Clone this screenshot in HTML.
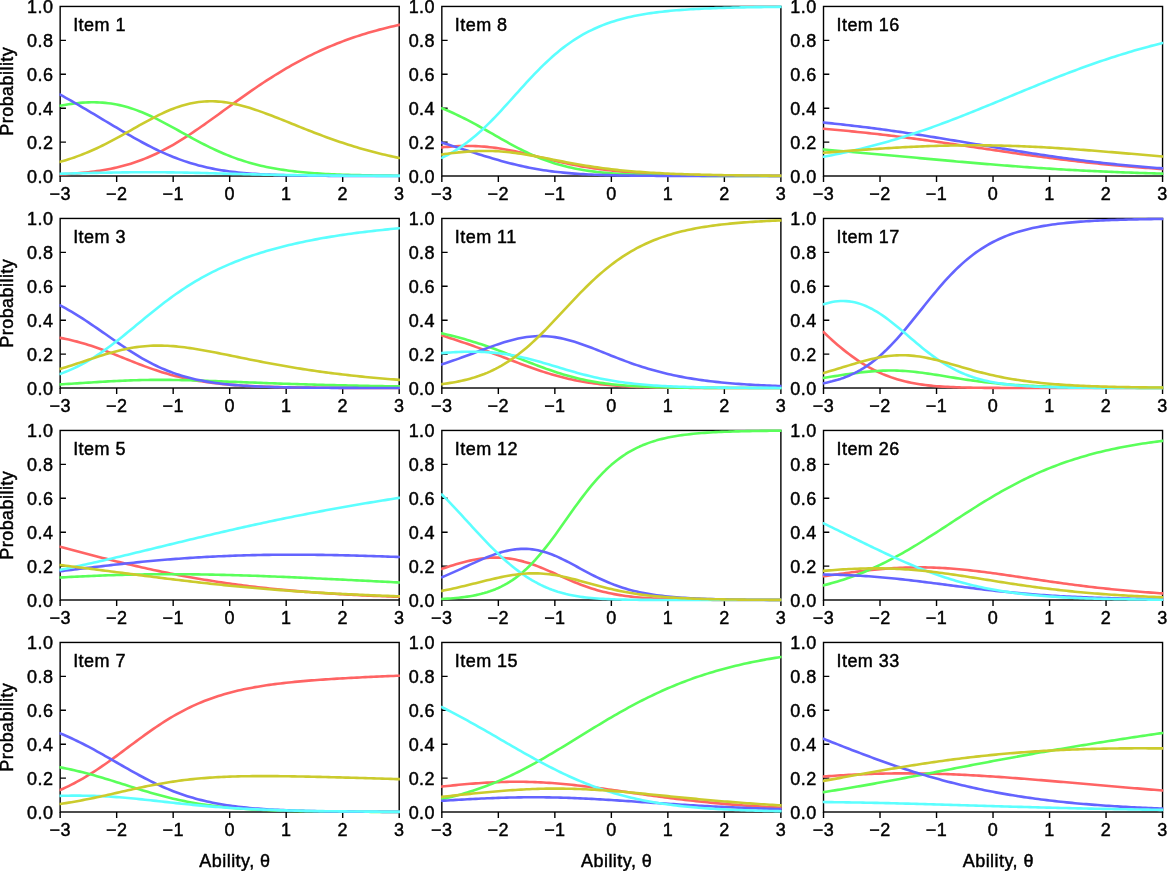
<!DOCTYPE html>
<html><head><meta charset="utf-8"><title>Item category response curves</title>
<style>
html,body{margin:0;padding:0;background:#fff;}
svg{display:block}
text{font-family:"Liberation Sans",Arial,Helvetica,sans-serif;font-size:18px;fill:#000;stroke:#000;stroke-width:0.45px;letter-spacing:0.45px}
.ax{fill:none;stroke:#000;stroke-width:1.4}
.cv{fill:none;stroke-width:2.6;stroke-linecap:butt;stroke-linejoin:round}
</style></head><body>
<svg width="1167" height="871" viewBox="0 0 1167 871">
<rect width="1167" height="871" fill="#fff"/>
<g>
<rect class="ax" x="60.15" y="6.45" width="339.05" height="169.55"/>
<path class="ax" d="M60.15 142.09h5.8M60.15 108.18h5.8M60.15 74.27h5.8M60.15 40.36h5.8M60.15 176.00v5.9M116.66 176.00v5.9M173.17 176.00v5.9M229.68 176.00v5.9M286.18 176.00v5.9M342.69 176.00v5.9M399.20 176.00v5.9"/>
<text x="53.35" y="182.80" text-anchor="end">0.0</text>
<text x="53.35" y="148.89" text-anchor="end">0.2</text>
<text x="53.35" y="114.98" text-anchor="end">0.4</text>
<text x="53.35" y="81.07" text-anchor="end">0.6</text>
<text x="53.35" y="47.16" text-anchor="end">0.8</text>
<text x="53.35" y="13.25" text-anchor="end">1.0</text>
<text x="60.15" y="199.50" text-anchor="middle">−3</text>
<text x="116.66" y="199.50" text-anchor="middle">−2</text>
<text x="173.17" y="199.50" text-anchor="middle">−1</text>
<text x="229.68" y="199.50" text-anchor="middle">0</text>
<text x="286.18" y="199.50" text-anchor="middle">1</text>
<text x="342.69" y="199.50" text-anchor="middle">2</text>
<text x="399.20" y="199.50" text-anchor="middle">3</text>
<text x="73.15" y="31.35">Item 1</text>
<text transform="translate(13.4 91.22) rotate(-90)" text-anchor="middle">Probability</text>
<polyline class="cv" stroke="#ff6464" points="59.45,174.46 60.15,174.46 62.98,174.31 65.80,174.14 68.63,173.97 71.45,173.78 74.28,173.57 77.10,173.34 79.93,173.10 82.75,172.83 85.58,172.54 88.40,172.23 91.23,171.89 94.06,171.53 96.88,171.14 99.71,170.72 102.53,170.27 105.36,169.79 108.18,169.27 111.01,168.71 113.83,168.12 116.66,167.49 119.48,166.81 122.31,166.10 125.13,165.34 127.96,164.53 130.79,163.67 133.61,162.77 136.44,161.82 139.26,160.82 142.09,159.77 144.91,158.66 147.74,157.50 150.56,156.29 153.39,155.03 156.21,153.72 159.04,152.35 161.87,150.94 164.69,149.47 167.52,147.95 170.34,146.39 173.17,144.78 175.99,143.12 178.82,141.42 181.64,139.68 184.47,137.90 187.29,136.09 190.12,134.24 192.94,132.35 195.77,130.44 198.60,128.50 201.42,126.54 204.25,124.56 207.07,122.56 209.90,120.54 212.72,118.52 215.55,116.48 218.37,114.43 221.20,112.38 224.02,110.32 226.85,108.27 229.68,106.22 232.50,104.17 235.33,102.13 238.15,100.10 240.98,98.08 243.80,96.08 246.63,94.08 249.45,92.11 252.28,90.15 255.10,88.21 257.93,86.29 260.75,84.39 263.58,82.52 266.41,80.67 269.23,78.84 272.06,77.04 274.88,75.26 277.71,73.52 280.53,71.80 283.36,70.10 286.18,68.44 289.01,66.80 291.83,65.20 294.66,63.62 297.49,62.08 300.31,60.56 303.14,59.07 305.96,57.62 308.79,56.19 311.61,54.79 314.44,53.43 317.26,52.09 320.09,50.78 322.91,49.50 325.74,48.25 328.56,47.03 331.39,45.84 334.22,44.68 337.04,43.54 339.87,42.44 342.69,41.36 345.52,40.30 348.34,39.28 351.17,38.28 353.99,37.30 356.82,36.36 359.64,35.43 362.47,34.53 365.30,33.66 368.12,32.81 370.95,31.98 373.77,31.18 376.60,30.39 379.42,29.63 382.25,28.90 385.07,28.18 387.90,27.48 390.72,26.81 393.55,26.15 396.37,25.51 399.20,24.89 399.90,24.89"/>
<polyline class="cv" stroke="#5aff5a" points="59.45,105.80 60.15,105.80 62.98,105.26 65.80,104.76 68.63,104.30 71.45,103.88 74.28,103.51 77.10,103.18 79.93,102.90 82.75,102.67 85.58,102.49 88.40,102.37 91.23,102.30 94.06,102.29 96.88,102.35 99.71,102.46 102.53,102.64 105.36,102.89 108.18,103.20 111.01,103.58 113.83,104.03 116.66,104.55 119.48,105.14 122.31,105.80 125.13,106.53 127.96,107.33 130.79,108.19 133.61,109.12 136.44,110.12 139.26,111.18 142.09,112.29 144.91,113.47 147.74,114.70 150.56,115.98 153.39,117.31 156.21,118.69 159.04,120.10 161.87,121.55 164.69,123.03 167.52,124.54 170.34,126.07 173.17,127.62 175.99,129.18 178.82,130.75 181.64,132.32 184.47,133.89 187.29,135.46 190.12,137.01 192.94,138.56 195.77,140.08 198.60,141.59 201.42,143.07 204.25,144.52 207.07,145.95 209.90,147.34 212.72,148.70 215.55,150.02 218.37,151.30 221.20,152.55 224.02,153.75 226.85,154.91 229.68,156.04 232.50,157.11 235.33,158.15 238.15,159.15 240.98,160.10 243.80,161.01 246.63,161.88 249.45,162.71 252.28,163.50 255.10,164.26 257.93,164.97 260.75,165.65 263.58,166.29 266.41,166.90 269.23,167.48 272.06,168.03 274.88,168.54 277.71,169.03 280.53,169.48 283.36,169.91 286.18,170.32 289.01,170.70 291.83,171.06 294.66,171.39 297.49,171.71 300.31,172.00 303.14,172.28 305.96,172.54 308.79,172.78 311.61,173.01 314.44,173.22 317.26,173.42 320.09,173.60 322.91,173.77 325.74,173.93 328.56,174.08 331.39,174.22 334.22,174.35 337.04,174.47 339.87,174.58 342.69,174.69 345.52,174.78 348.34,174.87 351.17,174.96 353.99,175.04 356.82,175.11 359.64,175.17 362.47,175.24 365.30,175.29 368.12,175.35 370.95,175.40 373.77,175.44 376.60,175.48 379.42,175.52 382.25,175.56 385.07,175.59 387.90,175.63 390.72,175.65 393.55,175.68 396.37,175.71 399.20,175.73 399.90,175.73"/>
<polyline class="cv" stroke="#6464ff" points="59.45,94.63 60.15,94.63 62.98,96.19 65.80,97.77 68.63,99.36 71.45,100.97 74.28,102.59 77.10,104.22 79.93,105.86 82.75,107.51 85.58,109.18 88.40,110.85 91.23,112.53 94.06,114.21 96.88,115.90 99.71,117.60 102.53,119.29 105.36,120.99 108.18,122.68 111.01,124.38 113.83,126.06 116.66,127.74 119.48,129.42 122.31,131.08 125.13,132.73 127.96,134.37 130.79,135.99 133.61,137.59 136.44,139.17 139.26,140.72 142.09,142.25 144.91,143.76 147.74,145.24 150.56,146.68 153.39,148.10 156.21,149.48 159.04,150.82 161.87,152.13 164.69,153.39 167.52,154.62 170.34,155.81 173.17,156.96 175.99,158.06 178.82,159.13 181.64,160.15 184.47,161.12 187.29,162.06 190.12,162.95 192.94,163.80 195.77,164.61 198.60,165.38 201.42,166.11 204.25,166.80 207.07,167.45 209.90,168.06 212.72,168.64 215.55,169.18 218.37,169.69 221.20,170.17 224.02,170.61 226.85,171.03 229.68,171.42 232.50,171.78 235.33,172.12 238.15,172.44 240.98,172.73 243.80,173.00 246.63,173.25 249.45,173.48 252.28,173.69 255.10,173.89 257.93,174.07 260.75,174.24 263.58,174.39 266.41,174.53 269.23,174.66 272.06,174.78 274.88,174.89 277.71,174.99 280.53,175.08 283.36,175.16 286.18,175.24 289.01,175.31 291.83,175.37 294.66,175.43 297.49,175.49 300.31,175.53 303.14,175.58 305.96,175.62 308.79,175.65 311.61,175.69 314.44,175.72 317.26,175.74 320.09,175.77 322.91,175.79 325.74,175.81 328.56,175.83 331.39,175.85 334.22,175.86 337.04,175.87 339.87,175.89 342.69,175.90 345.52,175.91 348.34,175.92 351.17,175.93 353.99,175.93 356.82,175.94 359.64,175.95 362.47,175.95 365.30,175.96 368.12,175.96 370.95,175.96 373.77,175.97 376.60,175.97 379.42,175.97 382.25,175.98 385.07,175.98 387.90,175.98 390.72,175.98 393.55,175.98 396.37,175.99 399.20,175.99 399.90,175.99"/>
<polyline class="cv" stroke="#5cffff" points="59.45,173.71 60.15,173.71 62.98,173.65 65.80,173.58 68.63,173.51 71.45,173.45 74.28,173.38 77.10,173.31 79.93,173.25 82.75,173.18 85.58,173.12 88.40,173.05 91.23,172.99 94.06,172.92 96.88,172.86 99.71,172.80 102.53,172.74 105.36,172.69 108.18,172.63 111.01,172.58 113.83,172.53 116.66,172.48 119.48,172.44 122.31,172.40 125.13,172.36 127.96,172.33 130.79,172.30 133.61,172.28 136.44,172.26 139.26,172.24 142.09,172.23 144.91,172.22 147.74,172.22 150.56,172.22 153.39,172.23 156.21,172.24 159.04,172.25 161.87,172.28 164.69,172.30 167.52,172.33 170.34,172.37 173.17,172.41 175.99,172.45 178.82,172.50 181.64,172.55 184.47,172.60 187.29,172.66 190.12,172.72 192.94,172.79 195.77,172.85 198.60,172.92 201.42,172.99 204.25,173.07 207.07,173.14 209.90,173.22 212.72,173.29 215.55,173.37 218.37,173.45 221.20,173.53 224.02,173.61 226.85,173.68 229.68,173.76 232.50,173.84 235.33,173.91 238.15,173.99 240.98,174.06 243.80,174.14 246.63,174.21 249.45,174.28 252.28,174.35 255.10,174.41 257.93,174.48 260.75,174.54 263.58,174.61 266.41,174.67 269.23,174.73 272.06,174.78 274.88,174.84 277.71,174.89 280.53,174.94 283.36,174.99 286.18,175.04 289.01,175.08 291.83,175.13 294.66,175.17 297.49,175.21 300.31,175.25 303.14,175.29 305.96,175.32 308.79,175.36 311.61,175.39 314.44,175.42 317.26,175.45 320.09,175.48 322.91,175.51 325.74,175.53 328.56,175.56 331.39,175.58 334.22,175.60 337.04,175.62 339.87,175.65 342.69,175.66 345.52,175.68 348.34,175.70 351.17,175.72 353.99,175.73 356.82,175.75 359.64,175.76 362.47,175.77 365.30,175.79 368.12,175.80 370.95,175.81 373.77,175.82 376.60,175.83 379.42,175.84 382.25,175.85 385.07,175.86 387.90,175.87 390.72,175.87 393.55,175.88 396.37,175.89 399.20,175.90 399.90,175.90"/>
<polyline class="cv" stroke="#cbcb2d" points="59.45,161.86 60.15,161.86 62.98,161.04 65.80,160.19 68.63,159.30 71.45,158.38 74.28,157.41 77.10,156.40 79.93,155.35 82.75,154.26 85.58,153.13 88.40,151.95 91.23,150.74 94.06,149.49 96.88,148.20 99.71,146.87 102.53,145.50 105.36,144.10 108.18,142.66 111.01,141.20 113.83,139.70 116.66,138.18 119.48,136.63 122.31,135.07 125.13,133.49 127.96,131.90 130.79,130.30 133.61,128.69 136.44,127.09 139.26,125.49 142.09,123.91 144.91,122.34 147.74,120.79 150.56,119.27 153.39,117.78 156.21,116.33 159.04,114.92 161.87,113.56 164.69,112.25 167.52,111.00 170.34,109.81 173.17,108.69 175.99,107.64 178.82,106.66 181.64,105.76 184.47,104.93 187.29,104.19 190.12,103.53 192.94,102.95 195.77,102.46 198.60,102.05 201.42,101.74 204.25,101.50 207.07,101.35 209.90,101.29 212.72,101.30 215.55,101.40 218.37,101.58 221.20,101.83 224.02,102.15 226.85,102.55 229.68,103.01 232.50,103.54 235.33,104.13 238.15,104.78 240.98,105.48 243.80,106.23 246.63,107.03 249.45,107.87 252.28,108.76 255.10,109.68 257.93,110.64 260.75,111.63 263.58,112.64 266.41,113.68 269.23,114.74 272.06,115.82 274.88,116.92 277.71,118.03 280.53,119.15 283.36,120.28 286.18,121.41 289.01,122.55 291.83,123.69 294.66,124.83 297.49,125.97 300.31,127.10 303.14,128.23 305.96,129.36 308.79,130.47 311.61,131.57 314.44,132.67 317.26,133.75 320.09,134.82 322.91,135.88 325.74,136.92 328.56,137.95 331.39,138.96 334.22,139.96 337.04,140.94 339.87,141.90 342.69,142.85 345.52,143.77 348.34,144.68 351.17,145.57 353.99,146.45 356.82,147.30 359.64,148.14 362.47,148.96 365.30,149.75 368.12,150.54 370.95,151.30 373.77,152.04 376.60,152.77 379.42,153.48 382.25,154.17 385.07,154.84 387.90,155.49 390.72,156.13 393.55,156.75 396.37,157.36 399.20,157.95 399.90,157.95"/>
</g>
<g>
<rect class="ax" x="60.15" y="218.45" width="339.05" height="169.55"/>
<path class="ax" d="M60.15 354.09h5.8M60.15 320.18h5.8M60.15 286.27h5.8M60.15 252.36h5.8M60.15 388.00v5.9M116.66 388.00v5.9M173.17 388.00v5.9M229.68 388.00v5.9M286.18 388.00v5.9M342.69 388.00v5.9M399.20 388.00v5.9"/>
<text x="53.35" y="394.80" text-anchor="end">0.0</text>
<text x="53.35" y="360.89" text-anchor="end">0.2</text>
<text x="53.35" y="326.98" text-anchor="end">0.4</text>
<text x="53.35" y="293.07" text-anchor="end">0.6</text>
<text x="53.35" y="259.16" text-anchor="end">0.8</text>
<text x="53.35" y="225.25" text-anchor="end">1.0</text>
<text x="60.15" y="411.50" text-anchor="middle">−3</text>
<text x="116.66" y="411.50" text-anchor="middle">−2</text>
<text x="173.17" y="411.50" text-anchor="middle">−1</text>
<text x="229.68" y="411.50" text-anchor="middle">0</text>
<text x="286.18" y="411.50" text-anchor="middle">1</text>
<text x="342.69" y="411.50" text-anchor="middle">2</text>
<text x="399.20" y="411.50" text-anchor="middle">3</text>
<text x="73.15" y="243.35">Item 3</text>
<text transform="translate(13.4 303.23) rotate(-90)" text-anchor="middle">Probability</text>
<polyline class="cv" stroke="#ff6464" points="59.45,337.86 60.15,337.86 62.98,338.39 65.80,338.96 68.63,339.57 71.45,340.21 74.28,340.90 77.10,341.63 79.93,342.39 82.75,343.19 85.58,344.04 88.40,344.91 91.23,345.83 94.06,346.77 96.88,347.75 99.71,348.75 102.53,349.79 105.36,350.84 108.18,351.92 111.01,353.02 113.83,354.13 116.66,355.25 119.48,356.38 122.31,357.51 125.13,358.65 127.96,359.78 130.79,360.91 133.61,362.02 136.44,363.13 139.26,364.22 142.09,365.30 144.91,366.35 147.74,367.38 150.56,368.39 153.39,369.37 156.21,370.33 159.04,371.25 161.87,372.14 164.69,373.01 167.52,373.83 170.34,374.63 173.17,375.40 175.99,376.13 178.82,376.83 181.64,377.50 184.47,378.13 187.29,378.74 190.12,379.31 192.94,379.86 195.77,380.37 198.60,380.86 201.42,381.32 204.25,381.76 207.07,382.17 209.90,382.55 212.72,382.92 215.55,383.26 218.37,383.58 221.20,383.88 224.02,384.16 226.85,384.42 229.68,384.67 232.50,384.90 235.33,385.12 238.15,385.32 240.98,385.51 243.80,385.68 246.63,385.85 249.45,386.00 252.28,386.14 255.10,386.28 257.93,386.40 260.75,386.52 263.58,386.62 266.41,386.72 269.23,386.82 272.06,386.90 274.88,386.98 277.71,387.06 280.53,387.13 283.36,387.19 286.18,387.25 289.01,387.31 291.83,387.36 294.66,387.40 297.49,387.45 300.31,387.49 303.14,387.53 305.96,387.56 308.79,387.60 311.61,387.63 314.44,387.65 317.26,387.68 320.09,387.70 322.91,387.73 325.74,387.75 328.56,387.77 331.39,387.78 334.22,387.80 337.04,387.81 339.87,387.83 342.69,387.84 345.52,387.85 348.34,387.86 351.17,387.88 353.99,387.88 356.82,387.89 359.64,387.90 362.47,387.91 365.30,387.92 368.12,387.92 370.95,387.93 373.77,387.93 376.60,387.94 379.42,387.94 382.25,387.95 385.07,387.95 387.90,387.96 390.72,387.96 393.55,387.96 396.37,387.96 399.20,387.97 399.90,387.97"/>
<polyline class="cv" stroke="#5aff5a" points="59.45,384.38 60.15,384.38 62.98,384.21 65.80,384.05 68.63,383.88 71.45,383.70 74.28,383.53 77.10,383.35 79.93,383.17 82.75,382.99 85.58,382.81 88.40,382.63 91.23,382.45 94.06,382.27 96.88,382.09 99.71,381.92 102.53,381.75 105.36,381.58 108.18,381.42 111.01,381.26 113.83,381.11 116.66,380.97 119.48,380.83 122.31,380.70 125.13,380.58 127.96,380.47 130.79,380.36 133.61,380.27 136.44,380.18 139.26,380.11 142.09,380.04 144.91,379.99 147.74,379.94 150.56,379.91 153.39,379.88 156.21,379.87 159.04,379.86 161.87,379.86 164.69,379.88 167.52,379.90 170.34,379.92 173.17,379.96 175.99,380.00 178.82,380.05 181.64,380.11 184.47,380.17 187.29,380.24 190.12,380.32 192.94,380.40 195.77,380.48 198.60,380.57 201.42,380.66 204.25,380.75 207.07,380.85 209.90,380.95 212.72,381.05 215.55,381.15 218.37,381.26 221.20,381.37 224.02,381.47 226.85,381.58 229.68,381.69 232.50,381.80 235.33,381.91 238.15,382.02 240.98,382.13 243.80,382.24 246.63,382.35 249.45,382.46 252.28,382.57 255.10,382.67 257.93,382.78 260.75,382.88 263.58,382.99 266.41,383.09 269.23,383.19 272.06,383.30 274.88,383.40 277.71,383.49 280.53,383.59 283.36,383.69 286.18,383.78 289.01,383.87 291.83,383.96 294.66,384.05 297.49,384.14 300.31,384.23 303.14,384.31 305.96,384.40 308.79,384.48 311.61,384.56 314.44,384.64 317.26,384.72 320.09,384.80 322.91,384.87 325.74,384.94 328.56,385.02 331.39,385.09 334.22,385.16 337.04,385.22 339.87,385.29 342.69,385.35 345.52,385.42 348.34,385.48 351.17,385.54 353.99,385.60 356.82,385.66 359.64,385.72 362.47,385.77 365.30,385.83 368.12,385.88 370.95,385.93 373.77,385.98 376.60,386.03 379.42,386.08 382.25,386.13 385.07,386.18 387.90,386.22 390.72,386.27 393.55,386.31 396.37,386.35 399.20,386.39 399.90,386.39"/>
<polyline class="cv" stroke="#6464ff" points="59.45,305.38 60.15,305.38 62.98,306.89 65.80,308.46 68.63,310.06 71.45,311.71 74.28,313.40 77.10,315.13 79.93,316.89 82.75,318.70 85.58,320.53 88.40,322.40 91.23,324.30 94.06,326.22 96.88,328.15 99.71,330.11 102.53,332.08 105.36,334.05 108.18,336.03 111.01,338.00 113.83,339.97 116.66,341.93 119.48,343.87 122.31,345.78 125.13,347.68 127.96,349.54 130.79,351.37 133.61,353.16 136.44,354.90 139.26,356.61 142.09,358.26 144.91,359.87 147.74,361.42 150.56,362.92 153.39,364.36 156.21,365.75 159.04,367.07 161.87,368.35 164.69,369.56 167.52,370.72 170.34,371.82 173.17,372.87 175.99,373.86 178.82,374.80 181.64,375.68 184.47,376.52 187.29,377.31 190.12,378.05 192.94,378.75 195.77,379.40 198.60,380.02 201.42,380.59 204.25,381.13 207.07,381.63 209.90,382.10 212.72,382.53 215.55,382.94 218.37,383.32 221.20,383.67 224.02,384.00 226.85,384.30 229.68,384.59 232.50,384.85 235.33,385.09 238.15,385.32 240.98,385.53 243.80,385.72 246.63,385.90 249.45,386.06 252.28,386.21 255.10,386.36 257.93,386.49 260.75,386.61 263.58,386.72 266.41,386.82 269.23,386.91 272.06,387.00 274.88,387.08 277.71,387.16 280.53,387.22 283.36,387.29 286.18,387.34 289.01,387.40 291.83,387.45 294.66,387.49 297.49,387.53 300.31,387.57 303.14,387.61 305.96,387.64 308.79,387.67 311.61,387.70 314.44,387.72 317.26,387.74 320.09,387.76 322.91,387.78 325.74,387.80 328.56,387.82 331.39,387.83 334.22,387.85 337.04,387.86 339.87,387.87 342.69,387.88 345.52,387.89 348.34,387.90 351.17,387.91 353.99,387.92 356.82,387.92 359.64,387.93 362.47,387.94 365.30,387.94 368.12,387.95 370.95,387.95 373.77,387.95 376.60,387.96 379.42,387.96 382.25,387.97 385.07,387.97 387.90,387.97 390.72,387.97 393.55,387.98 396.37,387.98 399.20,387.98 399.90,387.98"/>
<polyline class="cv" stroke="#5cffff" points="59.45,373.93 60.15,373.93 62.98,372.90 65.80,371.81 68.63,370.65 71.45,369.43 74.28,368.14 77.10,366.79 79.93,365.37 82.75,363.88 85.58,362.33 88.40,360.70 91.23,359.01 94.06,357.26 96.88,355.44 99.71,353.56 102.53,351.62 105.36,349.62 108.18,347.57 111.01,345.47 113.83,343.33 116.66,341.14 119.48,338.92 122.31,336.66 125.13,334.38 127.96,332.07 130.79,329.75 133.61,327.42 136.44,325.08 139.26,322.73 142.09,320.40 144.91,318.07 147.74,315.75 150.56,313.45 153.39,311.16 156.21,308.91 159.04,306.68 161.87,304.48 164.69,302.32 167.52,300.19 170.34,298.11 173.17,296.06 175.99,294.05 178.82,292.09 181.64,290.16 184.47,288.29 187.29,286.46 190.12,284.67 192.94,282.93 195.77,281.23 198.60,279.58 201.42,277.97 204.25,276.40 207.07,274.88 209.90,273.40 212.72,271.96 215.55,270.56 218.37,269.20 221.20,267.87 224.02,266.59 226.85,265.34 229.68,264.13 232.50,262.95 235.33,261.80 238.15,260.68 240.98,259.60 243.80,258.54 246.63,257.52 249.45,256.52 252.28,255.55 255.10,254.61 257.93,253.69 260.75,252.80 263.58,251.93 266.41,251.09 269.23,250.26 272.06,249.46 274.88,248.68 277.71,247.92 280.53,247.18 283.36,246.46 286.18,245.76 289.01,245.07 291.83,244.41 294.66,243.76 297.49,243.12 300.31,242.51 303.14,241.90 305.96,241.32 308.79,240.74 311.61,240.19 314.44,239.64 317.26,239.11 320.09,238.59 322.91,238.09 325.74,237.60 328.56,237.12 331.39,236.65 334.22,236.19 337.04,235.74 339.87,235.31 342.69,234.88 345.52,234.47 348.34,234.07 351.17,233.67 353.99,233.29 356.82,232.91 359.64,232.55 362.47,232.19 365.30,231.84 368.12,231.50 370.95,231.17 373.77,230.85 376.60,230.53 379.42,230.22 382.25,229.92 385.07,229.63 387.90,229.34 390.72,229.06 393.55,228.79 396.37,228.53 399.20,228.27 399.90,228.27"/>
<polyline class="cv" stroke="#cbcb2d" points="59.45,368.90 60.15,368.90 62.98,368.05 65.80,367.18 68.63,366.30 71.45,365.40 74.28,364.48 77.10,363.56 79.93,362.62 82.75,361.68 85.58,360.74 88.40,359.80 91.23,358.86 94.06,357.93 96.88,357.01 99.71,356.11 102.53,355.22 105.36,354.35 108.18,353.51 111.01,352.70 113.83,351.91 116.66,351.17 119.48,350.46 122.31,349.79 125.13,349.17 127.96,348.59 130.79,348.07 133.61,347.58 136.44,347.16 139.26,346.78 142.09,346.45 144.91,346.18 147.74,345.96 150.56,345.79 153.39,345.67 156.21,345.60 159.04,345.58 161.87,345.61 164.69,345.69 167.52,345.81 170.34,345.97 173.17,346.17 175.99,346.41 178.82,346.68 181.64,346.99 184.47,347.33 187.29,347.70 190.12,348.10 192.94,348.52 195.77,348.96 198.60,349.43 201.42,349.91 204.25,350.41 207.07,350.93 209.90,351.45 212.72,351.99 215.55,352.54 218.37,353.10 221.20,353.66 224.02,354.23 226.85,354.80 229.68,355.38 232.50,355.95 235.33,356.53 238.15,357.11 240.98,357.69 243.80,358.26 246.63,358.83 249.45,359.40 252.28,359.97 255.10,360.53 257.93,361.09 260.75,361.64 263.58,362.19 266.41,362.73 269.23,363.26 272.06,363.79 274.88,364.31 277.71,364.82 280.53,365.33 283.36,365.83 286.18,366.32 289.01,366.80 291.83,367.27 294.66,367.74 297.49,368.20 300.31,368.65 303.14,369.10 305.96,369.53 308.79,369.96 311.61,370.38 314.44,370.79 317.26,371.20 320.09,371.59 322.91,371.98 325.74,372.36 328.56,372.74 331.39,373.10 334.22,373.46 337.04,373.81 339.87,374.15 342.69,374.49 345.52,374.82 348.34,375.14 351.17,375.45 353.99,375.76 356.82,376.06 359.64,376.36 362.47,376.65 365.30,376.93 368.12,377.20 370.95,377.47 373.77,377.73 376.60,377.99 379.42,378.24 382.25,378.49 385.07,378.73 387.90,378.96 390.72,379.19 393.55,379.41 396.37,379.63 399.20,379.84 399.90,379.84"/>
</g>
<g>
<rect class="ax" x="60.15" y="430.45" width="339.05" height="169.55"/>
<path class="ax" d="M60.15 566.09h5.8M60.15 532.18h5.8M60.15 498.27h5.8M60.15 464.36h5.8M60.15 600.00v5.9M116.66 600.00v5.9M173.17 600.00v5.9M229.68 600.00v5.9M286.18 600.00v5.9M342.69 600.00v5.9M399.20 600.00v5.9"/>
<text x="53.35" y="606.80" text-anchor="end">0.0</text>
<text x="53.35" y="572.89" text-anchor="end">0.2</text>
<text x="53.35" y="538.98" text-anchor="end">0.4</text>
<text x="53.35" y="505.07" text-anchor="end">0.6</text>
<text x="53.35" y="471.16" text-anchor="end">0.8</text>
<text x="53.35" y="437.25" text-anchor="end">1.0</text>
<text x="60.15" y="623.50" text-anchor="middle">−3</text>
<text x="116.66" y="623.50" text-anchor="middle">−2</text>
<text x="173.17" y="623.50" text-anchor="middle">−1</text>
<text x="229.68" y="623.50" text-anchor="middle">0</text>
<text x="286.18" y="623.50" text-anchor="middle">1</text>
<text x="342.69" y="623.50" text-anchor="middle">2</text>
<text x="399.20" y="623.50" text-anchor="middle">3</text>
<text x="73.15" y="455.35">Item 5</text>
<text transform="translate(13.4 515.23) rotate(-90)" text-anchor="middle">Probability</text>
<polyline class="cv" stroke="#ff6464" points="59.45,546.71 60.15,546.71 62.98,547.48 65.80,548.24 68.63,549.00 71.45,549.75 74.28,550.51 77.10,551.26 79.93,552.01 82.75,552.76 85.58,553.50 88.40,554.24 91.23,554.98 94.06,555.72 96.88,556.45 99.71,557.17 102.53,557.89 105.36,558.61 108.18,559.32 111.01,560.03 113.83,560.73 116.66,561.43 119.48,562.12 122.31,562.81 125.13,563.49 127.96,564.16 130.79,564.83 133.61,565.49 136.44,566.14 139.26,566.79 142.09,567.43 144.91,568.07 147.74,568.70 150.56,569.32 153.39,569.93 156.21,570.54 159.04,571.14 161.87,571.73 164.69,572.31 167.52,572.89 170.34,573.46 173.17,574.02 175.99,574.57 178.82,575.12 181.64,575.65 184.47,576.18 187.29,576.70 190.12,577.22 192.94,577.72 195.77,578.22 198.60,578.71 201.42,579.19 204.25,579.67 207.07,580.13 209.90,580.59 212.72,581.04 215.55,581.48 218.37,581.92 221.20,582.34 224.02,582.76 226.85,583.17 229.68,583.58 232.50,583.97 235.33,584.36 238.15,584.74 240.98,585.12 243.80,585.48 246.63,585.84 249.45,586.19 252.28,586.54 255.10,586.87 257.93,587.20 260.75,587.53 263.58,587.84 266.41,588.15 269.23,588.46 272.06,588.75 274.88,589.04 277.71,589.33 280.53,589.60 283.36,589.87 286.18,590.14 289.01,590.40 291.83,590.65 294.66,590.90 297.49,591.14 300.31,591.37 303.14,591.61 305.96,591.83 308.79,592.05 311.61,592.26 314.44,592.47 317.26,592.68 320.09,592.88 322.91,593.07 325.74,593.26 328.56,593.44 331.39,593.62 334.22,593.80 337.04,593.97 339.87,594.14 342.69,594.30 345.52,594.46 348.34,594.61 351.17,594.76 353.99,594.91 356.82,595.05 359.64,595.19 362.47,595.33 365.30,595.46 368.12,595.59 370.95,595.71 373.77,595.84 376.60,595.95 379.42,596.07 382.25,596.18 385.07,596.29 387.90,596.40 390.72,596.50 393.55,596.60 396.37,596.70 399.20,596.80 399.90,596.80"/>
<polyline class="cv" stroke="#5aff5a" points="59.45,577.50 60.15,577.50 62.98,577.35 65.80,577.19 68.63,577.04 71.45,576.90 74.28,576.75 77.10,576.61 79.93,576.47 82.75,576.34 85.58,576.21 88.40,576.09 91.23,575.96 94.06,575.84 96.88,575.73 99.71,575.62 102.53,575.51 105.36,575.41 108.18,575.31 111.01,575.22 113.83,575.13 116.66,575.04 119.48,574.96 122.31,574.88 125.13,574.81 127.96,574.74 130.79,574.68 133.61,574.62 136.44,574.56 139.26,574.51 142.09,574.46 144.91,574.42 147.74,574.38 150.56,574.35 153.39,574.32 156.21,574.29 159.04,574.27 161.87,574.26 164.69,574.24 167.52,574.24 170.34,574.23 173.17,574.23 175.99,574.24 178.82,574.25 181.64,574.26 184.47,574.28 187.29,574.30 190.12,574.32 192.94,574.35 195.77,574.38 198.60,574.42 201.42,574.46 204.25,574.50 207.07,574.55 209.90,574.60 212.72,574.65 215.55,574.71 218.37,574.77 221.20,574.83 224.02,574.90 226.85,574.97 229.68,575.04 232.50,575.12 235.33,575.20 238.15,575.28 240.98,575.36 243.80,575.45 246.63,575.54 249.45,575.63 252.28,575.73 255.10,575.82 257.93,575.92 260.75,576.02 263.58,576.13 266.41,576.23 269.23,576.34 272.06,576.45 274.88,576.56 277.71,576.68 280.53,576.79 283.36,576.91 286.18,577.03 289.01,577.15 291.83,577.27 294.66,577.39 297.49,577.52 300.31,577.65 303.14,577.77 305.96,577.90 308.79,578.03 311.61,578.16 314.44,578.29 317.26,578.43 320.09,578.56 322.91,578.69 325.74,578.83 328.56,578.96 331.39,579.10 334.22,579.24 337.04,579.38 339.87,579.51 342.69,579.65 345.52,579.79 348.34,579.93 351.17,580.07 353.99,580.21 356.82,580.35 359.64,580.49 362.47,580.63 365.30,580.78 368.12,580.92 370.95,581.06 373.77,581.20 376.60,581.34 379.42,581.48 382.25,581.62 385.07,581.76 387.90,581.91 390.72,582.05 393.55,582.19 396.37,582.33 399.20,582.47 399.90,582.47"/>
<polyline class="cv" stroke="#6464ff" points="59.45,571.28 60.15,571.28 62.98,570.93 65.80,570.57 68.63,570.21 71.45,569.86 74.28,569.51 77.10,569.15 79.93,568.80 82.75,568.46 85.58,568.11 88.40,567.77 91.23,567.43 94.06,567.09 96.88,566.75 99.71,566.42 102.53,566.09 105.36,565.76 108.18,565.43 111.01,565.11 113.83,564.80 116.66,564.48 119.48,564.17 122.31,563.86 125.13,563.56 127.96,563.26 130.79,562.97 133.61,562.68 136.44,562.39 139.26,562.11 142.09,561.83 144.91,561.56 147.74,561.30 150.56,561.03 153.39,560.78 156.21,560.52 159.04,560.28 161.87,560.03 164.69,559.80 167.52,559.56 170.34,559.34 173.17,559.12 175.99,558.90 178.82,558.69 181.64,558.49 184.47,558.29 187.29,558.09 190.12,557.90 192.94,557.72 195.77,557.54 198.60,557.37 201.42,557.21 204.25,557.04 207.07,556.89 209.90,556.74 212.72,556.60 215.55,556.46 218.37,556.32 221.20,556.20 224.02,556.08 226.85,555.96 229.68,555.85 232.50,555.74 235.33,555.64 238.15,555.55 240.98,555.46 243.80,555.37 246.63,555.29 249.45,555.22 252.28,555.15 255.10,555.09 257.93,555.03 260.75,554.97 263.58,554.92 266.41,554.88 269.23,554.84 272.06,554.80 274.88,554.77 277.71,554.75 280.53,554.73 283.36,554.71 286.18,554.70 289.01,554.69 291.83,554.68 294.66,554.68 297.49,554.69 300.31,554.70 303.14,554.71 305.96,554.73 308.79,554.75 311.61,554.77 314.44,554.80 317.26,554.83 320.09,554.86 322.91,554.90 325.74,554.94 328.56,554.99 331.39,555.04 334.22,555.09 337.04,555.14 339.87,555.20 342.69,555.26 345.52,555.33 348.34,555.39 351.17,555.46 353.99,555.53 356.82,555.61 359.64,555.69 362.47,555.77 365.30,555.85 368.12,555.94 370.95,556.02 373.77,556.11 376.60,556.21 379.42,556.30 382.25,556.40 385.07,556.50 387.90,556.60 390.72,556.70 393.55,556.81 396.37,556.91 399.20,557.02 399.90,557.02"/>
<polyline class="cv" stroke="#5cffff" points="59.45,569.89 60.15,569.89 62.98,569.31 65.80,568.72 68.63,568.13 71.45,567.53 74.28,566.92 77.10,566.31 79.93,565.70 82.75,565.08 85.58,564.45 88.40,563.82 91.23,563.19 94.06,562.55 96.88,561.91 99.71,561.26 102.53,560.62 105.36,559.96 108.18,559.31 111.01,558.65 113.83,557.99 116.66,557.32 119.48,556.65 122.31,555.98 125.13,555.31 127.96,554.64 130.79,553.96 133.61,553.28 136.44,552.60 139.26,551.92 142.09,551.24 144.91,550.56 147.74,549.87 150.56,549.19 153.39,548.50 156.21,547.81 159.04,547.13 161.87,546.44 164.69,545.76 167.52,545.07 170.34,544.38 173.17,543.70 175.99,543.01 178.82,542.33 181.64,541.65 184.47,540.97 187.29,540.29 190.12,539.61 192.94,538.93 195.77,538.26 198.60,537.58 201.42,536.91 204.25,536.24 207.07,535.57 209.90,534.91 212.72,534.24 215.55,533.58 218.37,532.92 221.20,532.27 224.02,531.61 226.85,530.96 229.68,530.32 232.50,529.67 235.33,529.03 238.15,528.39 240.98,527.76 243.80,527.12 246.63,526.49 249.45,525.87 252.28,525.25 255.10,524.63 257.93,524.01 260.75,523.40 263.58,522.79 266.41,522.19 269.23,521.58 272.06,520.99 274.88,520.39 277.71,519.80 280.53,519.22 283.36,518.63 286.18,518.05 289.01,517.48 291.83,516.91 294.66,516.34 297.49,515.77 300.31,515.21 303.14,514.66 305.96,514.10 308.79,513.55 311.61,513.01 314.44,512.47 317.26,511.93 320.09,511.39 322.91,510.86 325.74,510.34 328.56,509.81 331.39,509.29 334.22,508.78 337.04,508.27 339.87,507.76 342.69,507.25 345.52,506.75 348.34,506.25 351.17,505.76 353.99,505.27 356.82,504.78 359.64,504.30 362.47,503.82 365.30,503.34 368.12,502.87 370.95,502.40 373.77,501.93 376.60,501.47 379.42,501.01 382.25,500.56 385.07,500.10 387.90,499.65 390.72,499.21 393.55,498.76 396.37,498.32 399.20,497.89 399.90,497.89"/>
<polyline class="cv" stroke="#cbcb2d" points="59.45,565.06 60.15,565.06 62.98,565.39 65.80,565.73 68.63,566.07 71.45,566.42 74.28,566.76 77.10,567.11 79.93,567.46 82.75,567.82 85.58,568.17 88.40,568.53 91.23,568.89 94.06,569.25 96.88,569.61 99.71,569.98 102.53,570.34 105.36,570.71 108.18,571.07 111.01,571.44 113.83,571.81 116.66,572.18 119.48,572.55 122.31,572.91 125.13,573.28 127.96,573.65 130.79,574.02 133.61,574.38 136.44,574.75 139.26,575.12 142.09,575.48 144.91,575.84 147.74,576.20 150.56,576.56 153.39,576.92 156.21,577.28 159.04,577.64 161.87,577.99 164.69,578.34 167.52,578.69 170.34,579.04 173.17,579.38 175.99,579.73 178.82,580.07 181.64,580.40 184.47,580.74 187.29,581.07 190.12,581.40 192.94,581.73 195.77,582.05 198.60,582.37 201.42,582.69 204.25,583.00 207.07,583.31 209.90,583.62 212.72,583.92 215.55,584.22 218.37,584.52 221.20,584.81 224.02,585.10 226.85,585.39 229.68,585.67 232.50,585.95 235.33,586.22 238.15,586.49 240.98,586.76 243.80,587.02 246.63,587.28 249.45,587.54 252.28,587.79 255.10,588.04 257.93,588.29 260.75,588.53 263.58,588.77 266.41,589.00 269.23,589.23 272.06,589.46 274.88,589.68 277.71,589.90 280.53,590.11 283.36,590.32 286.18,590.53 289.01,590.74 291.83,590.94 294.66,591.14 297.49,591.33 300.31,591.52 303.14,591.71 305.96,591.89 308.79,592.07 311.61,592.25 314.44,592.42 317.26,592.59 320.09,592.76 322.91,592.92 325.74,593.08 328.56,593.24 331.39,593.39 334.22,593.55 337.04,593.69 339.87,593.84 342.69,593.98 345.52,594.12 348.34,594.26 351.17,594.39 353.99,594.52 356.82,594.65 359.64,594.78 362.47,594.90 365.30,595.02 368.12,595.14 370.95,595.25 373.77,595.37 376.60,595.48 379.42,595.58 382.25,595.69 385.07,595.79 387.90,595.90 390.72,595.99 393.55,596.09 396.37,596.19 399.20,596.28 399.90,596.28"/>
</g>
<g>
<rect class="ax" x="60.15" y="642.45" width="339.05" height="169.55"/>
<path class="ax" d="M60.15 778.09h5.8M60.15 744.18h5.8M60.15 710.27h5.8M60.15 676.36h5.8M60.15 812.00v5.9M116.66 812.00v5.9M173.17 812.00v5.9M229.68 812.00v5.9M286.18 812.00v5.9M342.69 812.00v5.9M399.20 812.00v5.9"/>
<text x="53.35" y="818.80" text-anchor="end">0.0</text>
<text x="53.35" y="784.89" text-anchor="end">0.2</text>
<text x="53.35" y="750.98" text-anchor="end">0.4</text>
<text x="53.35" y="717.07" text-anchor="end">0.6</text>
<text x="53.35" y="683.16" text-anchor="end">0.8</text>
<text x="53.35" y="649.25" text-anchor="end">1.0</text>
<text x="60.15" y="835.50" text-anchor="middle">−3</text>
<text x="116.66" y="835.50" text-anchor="middle">−2</text>
<text x="173.17" y="835.50" text-anchor="middle">−1</text>
<text x="229.68" y="835.50" text-anchor="middle">0</text>
<text x="286.18" y="835.50" text-anchor="middle">1</text>
<text x="342.69" y="835.50" text-anchor="middle">2</text>
<text x="399.20" y="835.50" text-anchor="middle">3</text>
<text x="73.15" y="667.35">Item 7</text>
<text transform="translate(13.4 727.23) rotate(-90)" text-anchor="middle">Probability</text>
<text x="234.97" y="867.00" text-anchor="middle">Ability, θ</text>
<polyline class="cv" stroke="#ff6464" points="59.45,789.96 60.15,789.96 62.98,788.72 65.80,787.43 68.63,786.08 71.45,784.68 74.28,783.23 77.10,781.72 79.93,780.16 82.75,778.55 85.58,776.89 88.40,775.18 91.23,773.42 94.06,771.61 96.88,769.76 99.71,767.87 102.53,765.94 105.36,763.98 108.18,761.98 111.01,759.95 113.83,757.90 116.66,755.83 119.48,753.74 122.31,751.64 125.13,749.53 127.96,747.41 130.79,745.30 133.61,743.19 136.44,741.09 139.26,739.00 142.09,736.93 144.91,734.88 147.74,732.86 150.56,730.86 153.39,728.90 156.21,726.97 159.04,725.08 161.87,723.22 164.69,721.41 167.52,719.65 170.34,717.93 173.17,716.25 175.99,714.63 178.82,713.05 181.64,711.52 184.47,710.04 187.29,708.61 190.12,707.23 192.94,705.90 195.77,704.62 198.60,703.39 201.42,702.21 204.25,701.07 207.07,699.97 209.90,698.93 212.72,697.92 215.55,696.96 218.37,696.04 221.20,695.15 224.02,694.31 226.85,693.50 229.68,692.73 232.50,691.99 235.33,691.29 238.15,690.61 240.98,689.97 243.80,689.35 246.63,688.76 249.45,688.20 252.28,687.67 255.10,687.15 257.93,686.66 260.75,686.19 263.58,685.75 266.41,685.32 269.23,684.91 272.06,684.51 274.88,684.14 277.71,683.78 280.53,683.43 283.36,683.10 286.18,682.78 289.01,682.47 291.83,682.18 294.66,681.90 297.49,681.63 300.31,681.36 303.14,681.11 305.96,680.87 308.79,680.64 311.61,680.41 314.44,680.19 317.26,679.98 320.09,679.77 322.91,679.58 325.74,679.38 328.56,679.20 331.39,679.01 334.22,678.84 337.04,678.67 339.87,678.50 342.69,678.34 345.52,678.18 348.34,678.03 351.17,677.87 353.99,677.73 356.82,677.58 359.64,677.44 362.47,677.30 365.30,677.17 368.12,677.03 370.95,676.90 373.77,676.78 376.60,676.65 379.42,676.53 382.25,676.40 385.07,676.28 387.90,676.16 390.72,676.05 393.55,675.93 396.37,675.82 399.20,675.71 399.90,675.71"/>
<polyline class="cv" stroke="#5aff5a" points="59.45,767.34 60.15,767.34 62.98,767.88 65.80,768.45 68.63,769.03 71.45,769.64 74.28,770.28 77.10,770.94 79.93,771.62 82.75,772.32 85.58,773.04 88.40,773.79 91.23,774.55 94.06,775.34 96.88,776.14 99.71,776.96 102.53,777.80 105.36,778.65 108.18,779.51 111.01,780.38 113.83,781.26 116.66,782.15 119.48,783.04 122.31,783.94 125.13,784.84 127.96,785.74 130.79,786.63 133.61,787.53 136.44,788.41 139.26,789.29 142.09,790.16 144.91,791.01 147.74,791.86 150.56,792.68 153.39,793.50 156.21,794.29 159.04,795.07 161.87,795.83 164.69,796.57 167.52,797.28 170.34,797.98 173.17,798.65 175.99,799.31 178.82,799.94 181.64,800.54 184.47,801.13 187.29,801.69 190.12,802.23 192.94,802.74 195.77,803.24 198.60,803.71 201.42,804.16 204.25,804.59 207.07,805.01 209.90,805.40 212.72,805.77 215.55,806.12 218.37,806.46 221.20,806.78 224.02,807.08 226.85,807.37 229.68,807.64 232.50,807.90 235.33,808.14 238.15,808.37 240.98,808.59 243.80,808.79 246.63,808.98 249.45,809.17 252.28,809.34 255.10,809.50 257.93,809.65 260.75,809.80 263.58,809.93 266.41,810.06 269.23,810.18 272.06,810.29 274.88,810.40 277.71,810.50 280.53,810.59 283.36,810.68 286.18,810.76 289.01,810.84 291.83,810.91 294.66,810.98 297.49,811.04 300.31,811.10 303.14,811.16 305.96,811.21 308.79,811.26 311.61,811.31 314.44,811.35 317.26,811.39 320.09,811.43 322.91,811.47 325.74,811.50 328.56,811.53 331.39,811.56 334.22,811.59 337.04,811.62 339.87,811.64 342.69,811.66 345.52,811.69 348.34,811.71 351.17,811.72 353.99,811.74 356.82,811.76 359.64,811.77 362.47,811.79 365.30,811.80 368.12,811.81 370.95,811.83 373.77,811.84 376.60,811.85 379.42,811.86 382.25,811.87 385.07,811.87 387.90,811.88 390.72,811.89 393.55,811.90 396.37,811.90 399.20,811.91 399.90,811.91"/>
<polyline class="cv" stroke="#6464ff" points="59.45,733.33 60.15,733.33 62.98,734.52 65.80,735.74 68.63,736.99 71.45,738.28 74.28,739.61 77.10,740.96 79.93,742.35 82.75,743.77 85.58,745.22 88.40,746.69 91.23,748.20 94.06,749.72 96.88,751.27 99.71,752.84 102.53,754.42 105.36,756.02 108.18,757.63 111.01,759.25 113.83,760.88 116.66,762.50 119.48,764.13 122.31,765.75 125.13,767.37 127.96,768.98 130.79,770.57 133.61,772.15 136.44,773.71 139.26,775.24 142.09,776.75 144.91,778.24 147.74,779.69 150.56,781.12 153.39,782.50 156.21,783.86 159.04,785.18 161.87,786.45 164.69,787.69 167.52,788.89 170.34,790.05 173.17,791.17 175.99,792.25 178.82,793.29 181.64,794.28 184.47,795.23 187.29,796.15 190.12,797.02 192.94,797.86 195.77,798.65 198.60,799.41 201.42,800.13 204.25,800.82 207.07,801.47 209.90,802.09 212.72,802.68 215.55,803.24 218.37,803.76 221.20,804.26 224.02,804.73 226.85,805.18 229.68,805.60 232.50,805.99 235.33,806.36 238.15,806.72 240.98,807.05 243.80,807.36 246.63,807.65 249.45,807.93 252.28,808.18 255.10,808.43 257.93,808.66 260.75,808.87 263.58,809.07 266.41,809.26 269.23,809.44 272.06,809.60 274.88,809.76 277.71,809.90 280.53,810.04 283.36,810.17 286.18,810.29 289.01,810.40 291.83,810.50 294.66,810.60 297.49,810.69 300.31,810.78 303.14,810.86 305.96,810.93 308.79,811.00 311.61,811.07 314.44,811.13 317.26,811.19 320.09,811.24 322.91,811.29 325.74,811.34 328.56,811.38 331.39,811.42 334.22,811.46 337.04,811.50 339.87,811.53 342.69,811.56 345.52,811.59 348.34,811.62 351.17,811.64 353.99,811.67 356.82,811.69 359.64,811.71 362.47,811.73 365.30,811.75 368.12,811.76 370.95,811.78 373.77,811.80 376.60,811.81 379.42,811.82 382.25,811.83 385.07,811.84 387.90,811.85 390.72,811.86 393.55,811.87 396.37,811.88 399.20,811.89 399.90,811.89"/>
<polyline class="cv" stroke="#5cffff" points="59.45,795.86 60.15,795.86 62.98,795.79 65.80,795.74 68.63,795.70 71.45,795.67 74.28,795.65 77.10,795.65 79.93,795.65 82.75,795.68 85.58,795.71 88.40,795.76 91.23,795.83 94.06,795.91 96.88,796.01 99.71,796.12 102.53,796.24 105.36,796.38 108.18,796.54 111.01,796.71 113.83,796.89 116.66,797.09 119.48,797.30 122.31,797.52 125.13,797.76 127.96,798.00 130.79,798.26 133.61,798.53 136.44,798.80 139.26,799.09 142.09,799.38 144.91,799.67 147.74,799.98 150.56,800.28 153.39,800.59 156.21,800.90 159.04,801.22 161.87,801.53 164.69,801.85 167.52,802.16 170.34,802.47 173.17,802.78 175.99,803.09 178.82,803.40 181.64,803.69 184.47,803.99 187.29,804.28 190.12,804.56 192.94,804.84 195.77,805.11 198.60,805.38 201.42,805.64 204.25,805.89 207.07,806.13 209.90,806.37 212.72,806.60 215.55,806.83 218.37,807.04 221.20,807.25 224.02,807.46 226.85,807.65 229.68,807.84 232.50,808.02 235.33,808.19 238.15,808.36 240.98,808.52 243.80,808.68 246.63,808.83 249.45,808.97 252.28,809.11 255.10,809.24 257.93,809.37 260.75,809.49 263.58,809.60 266.41,809.71 269.23,809.82 272.06,809.92 274.88,810.02 277.71,810.11 280.53,810.20 283.36,810.28 286.18,810.37 289.01,810.44 291.83,810.52 294.66,810.59 297.49,810.65 300.31,810.72 303.14,810.78 305.96,810.84 308.79,810.89 311.61,810.95 314.44,811.00 317.26,811.04 320.09,811.09 322.91,811.13 325.74,811.18 328.56,811.22 331.39,811.25 334.22,811.29 337.04,811.32 339.87,811.36 342.69,811.39 345.52,811.42 348.34,811.44 351.17,811.47 353.99,811.50 356.82,811.52 359.64,811.54 362.47,811.57 365.30,811.59 368.12,811.61 370.95,811.63 373.77,811.65 376.60,811.66 379.42,811.68 382.25,811.69 385.07,811.71 387.90,811.72 390.72,811.74 393.55,811.75 396.37,811.76 399.20,811.77 399.90,811.77"/>
<polyline class="cv" stroke="#cbcb2d" points="59.45,803.96 60.15,803.96 62.98,803.54 65.80,803.10 68.63,802.64 71.45,802.17 74.28,801.68 77.10,801.18 79.93,800.66 82.75,800.13 85.58,799.59 88.40,799.02 91.23,798.45 94.06,797.87 96.88,797.27 99.71,796.66 102.53,796.05 105.36,795.43 108.18,794.80 111.01,794.16 113.83,793.52 116.66,792.88 119.48,792.24 122.31,791.59 125.13,790.95 127.96,790.32 130.79,789.68 133.61,789.06 136.44,788.44 139.26,787.83 142.09,787.23 144.91,786.64 147.74,786.07 150.56,785.50 153.39,784.96 156.21,784.42 159.04,783.91 161.87,783.41 164.69,782.93 167.52,782.46 170.34,782.01 173.17,781.59 175.99,781.18 178.82,780.78 181.64,780.41 184.47,780.06 187.29,779.72 190.12,779.40 192.94,779.10 195.77,778.82 198.60,778.56 201.42,778.31 204.25,778.08 207.07,777.86 209.90,777.66 212.72,777.48 215.55,777.30 218.37,777.15 221.20,777.00 224.02,776.87 226.85,776.75 229.68,776.65 232.50,776.55 235.33,776.46 238.15,776.39 240.98,776.32 243.80,776.27 246.63,776.22 249.45,776.18 252.28,776.15 255.10,776.13 257.93,776.11 260.75,776.10 263.58,776.10 266.41,776.10 269.23,776.11 272.06,776.12 274.88,776.14 277.71,776.16 280.53,776.19 283.36,776.22 286.18,776.26 289.01,776.30 291.83,776.34 294.66,776.38 297.49,776.43 300.31,776.48 303.14,776.54 305.96,776.60 308.79,776.65 311.61,776.72 314.44,776.78 317.26,776.84 320.09,776.91 322.91,776.98 325.74,777.05 328.56,777.12 331.39,777.19 334.22,777.27 337.04,777.34 339.87,777.42 342.69,777.50 345.52,777.58 348.34,777.66 351.17,777.74 353.99,777.82 356.82,777.90 359.64,777.98 362.47,778.06 365.30,778.15 368.12,778.23 370.95,778.31 373.77,778.40 376.60,778.48 379.42,778.57 382.25,778.65 385.07,778.74 387.90,778.82 390.72,778.91 393.55,779.00 396.37,779.08 399.20,779.17 399.90,779.17"/>
</g>
<g>
<rect class="ax" x="441.83" y="6.45" width="339.05" height="169.55"/>
<path class="ax" d="M441.83 142.09h5.8M441.83 108.18h5.8M441.83 74.27h5.8M441.83 40.36h5.8M441.83 176.00v5.9M498.34 176.00v5.9M554.85 176.00v5.9M611.36 176.00v5.9M667.86 176.00v5.9M724.37 176.00v5.9M780.88 176.00v5.9"/>
<text x="435.03" y="182.80" text-anchor="end">0.0</text>
<text x="435.03" y="148.89" text-anchor="end">0.2</text>
<text x="435.03" y="114.98" text-anchor="end">0.4</text>
<text x="435.03" y="81.07" text-anchor="end">0.6</text>
<text x="435.03" y="47.16" text-anchor="end">0.8</text>
<text x="435.03" y="13.25" text-anchor="end">1.0</text>
<text x="441.83" y="199.50" text-anchor="middle">−3</text>
<text x="498.34" y="199.50" text-anchor="middle">−2</text>
<text x="554.85" y="199.50" text-anchor="middle">−1</text>
<text x="611.36" y="199.50" text-anchor="middle">0</text>
<text x="667.86" y="199.50" text-anchor="middle">1</text>
<text x="724.37" y="199.50" text-anchor="middle">2</text>
<text x="780.88" y="199.50" text-anchor="middle">3</text>
<text x="454.83" y="31.35">Item 8</text>
<polyline class="cv" stroke="#ff6464" points="441.13,147.34 441.83,147.34 444.66,147.08 447.48,146.84 450.31,146.62 453.13,146.44 455.96,146.28 458.78,146.16 461.61,146.06 464.43,146.00 467.26,145.98 470.08,145.99 472.91,146.04 475.74,146.13 478.56,146.26 481.39,146.43 484.21,146.64 487.04,146.89 489.86,147.18 492.69,147.50 495.51,147.87 498.34,148.27 501.16,148.71 503.99,149.19 506.81,149.69 509.64,150.23 512.47,150.80 515.29,151.39 518.12,152.00 520.94,152.63 523.77,153.28 526.59,153.95 529.42,154.63 532.24,155.31 535.07,156.00 537.89,156.70 540.72,157.39 543.54,158.09 546.37,158.78 549.20,159.46 552.02,160.13 554.85,160.80 557.67,161.45 560.50,162.09 563.32,162.71 566.15,163.32 568.97,163.91 571.80,164.49 574.62,165.04 577.45,165.58 580.28,166.10 583.10,166.60 585.93,167.08 588.75,167.54 591.58,167.98 594.40,168.40 597.23,168.81 600.05,169.19 602.88,169.56 605.70,169.92 608.53,170.25 611.36,170.57 614.18,170.87 617.01,171.16 619.83,171.43 622.66,171.69 625.48,171.94 628.31,172.17 631.13,172.39 633.96,172.60 636.78,172.80 639.61,172.98 642.43,173.16 645.26,173.33 648.09,173.48 650.91,173.63 653.74,173.77 656.56,173.90 659.39,174.03 662.21,174.15 665.04,174.26 667.86,174.36 670.69,174.46 673.51,174.55 676.34,174.64 679.16,174.72 681.99,174.80 684.82,174.87 687.64,174.94 690.47,175.00 693.29,175.06 696.12,175.12 698.94,175.17 701.77,175.22 704.59,175.27 707.42,175.31 710.24,175.36 713.07,175.39 715.90,175.43 718.72,175.47 721.55,175.50 724.37,175.53 727.20,175.56 730.02,175.58 732.85,175.61 735.67,175.63 738.50,175.66 741.32,175.68 744.15,175.70 746.98,175.72 749.80,175.73 752.63,175.75 755.45,175.76 758.28,175.78 761.10,175.79 763.93,175.80 766.75,175.82 769.58,175.83 772.40,175.84 775.23,175.85 778.05,175.86 780.88,175.87 781.58,175.87"/>
<polyline class="cv" stroke="#5aff5a" points="441.13,108.23 441.83,108.23 444.66,109.38 447.48,110.57 450.31,111.79 453.13,113.06 455.96,114.36 458.78,115.71 461.61,117.08 464.43,118.49 467.26,119.94 470.08,121.41 472.91,122.92 475.74,124.44 478.56,126.00 481.39,127.57 484.21,129.15 487.04,130.75 489.86,132.36 492.69,133.97 495.51,135.59 498.34,137.20 501.16,138.80 503.99,140.40 506.81,141.97 509.64,143.53 512.47,145.06 515.29,146.57 518.12,148.05 520.94,149.49 523.77,150.90 526.59,152.26 529.42,153.59 532.24,154.87 535.07,156.10 537.89,157.29 540.72,158.43 543.54,159.52 546.37,160.57 549.20,161.56 552.02,162.51 554.85,163.41 557.67,164.26 560.50,165.07 563.32,165.83 566.15,166.55 568.97,167.22 571.80,167.85 574.62,168.45 577.45,169.00 580.28,169.52 583.10,170.01 585.93,170.46 588.75,170.88 591.58,171.28 594.40,171.64 597.23,171.98 600.05,172.30 602.88,172.59 605.70,172.86 608.53,173.11 611.36,173.34 614.18,173.55 617.01,173.75 619.83,173.93 622.66,174.10 625.48,174.25 628.31,174.40 631.13,174.53 633.96,174.65 636.78,174.76 639.61,174.86 642.43,174.96 645.26,175.04 648.09,175.12 650.91,175.20 653.74,175.26 656.56,175.32 659.39,175.38 662.21,175.43 665.04,175.48 667.86,175.52 670.69,175.56 673.51,175.60 676.34,175.63 679.16,175.67 681.99,175.69 684.82,175.72 687.64,175.74 690.47,175.77 693.29,175.79 696.12,175.80 698.94,175.82 701.77,175.84 704.59,175.85 707.42,175.86 710.24,175.87 713.07,175.88 715.90,175.89 718.72,175.90 721.55,175.91 724.37,175.92 727.20,175.93 730.02,175.93 732.85,175.94 735.67,175.94 738.50,175.95 741.32,175.95 744.15,175.96 746.98,175.96 749.80,175.96 752.63,175.97 755.45,175.97 758.28,175.97 761.10,175.97 763.93,175.98 766.75,175.98 769.58,175.98 772.40,175.98 775.23,175.98 778.05,175.99 780.88,175.99 781.58,175.99"/>
<polyline class="cv" stroke="#6464ff" points="441.13,142.63 441.83,142.63 444.66,143.49 447.48,144.36 450.31,145.24 453.13,146.12 455.96,147.01 458.78,147.90 461.61,148.79 464.43,149.68 467.26,150.57 470.08,151.47 472.91,152.36 475.74,153.25 478.56,154.14 481.39,155.01 484.21,155.89 487.04,156.75 489.86,157.60 492.69,158.44 495.51,159.27 498.34,160.09 501.16,160.88 503.99,161.66 506.81,162.42 509.64,163.16 512.47,163.88 515.29,164.57 518.12,165.24 520.94,165.89 523.77,166.52 526.59,167.11 529.42,167.69 532.24,168.23 535.07,168.75 537.89,169.25 540.72,169.72 543.54,170.16 546.37,170.58 549.20,170.98 552.02,171.35 554.85,171.70 557.67,172.03 560.50,172.33 563.32,172.62 566.15,172.89 568.97,173.13 571.80,173.36 574.62,173.58 577.45,173.78 580.28,173.96 583.10,174.13 585.93,174.29 588.75,174.43 591.58,174.57 594.40,174.69 597.23,174.80 600.05,174.91 602.88,175.00 605.70,175.09 608.53,175.17 611.36,175.24 614.18,175.31 617.01,175.37 619.83,175.43 622.66,175.48 625.48,175.53 628.31,175.57 631.13,175.61 633.96,175.64 636.78,175.68 639.61,175.70 642.43,175.73 645.26,175.76 648.09,175.78 650.91,175.80 653.74,175.82 656.56,175.83 659.39,175.85 662.21,175.86 665.04,175.88 667.86,175.89 670.69,175.90 673.51,175.91 676.34,175.92 679.16,175.92 681.99,175.93 684.82,175.94 687.64,175.94 690.47,175.95 693.29,175.95 696.12,175.96 698.94,175.96 701.77,175.96 704.59,175.97 707.42,175.97 710.24,175.97 713.07,175.98 715.90,175.98 718.72,175.98 721.55,175.98 724.37,175.98 727.20,175.99 730.02,175.99 732.85,175.99 735.67,175.99 738.50,175.99 741.32,175.99 744.15,175.99 746.98,175.99 749.80,175.99 752.63,175.99 755.45,175.99 758.28,176.00 761.10,176.00 763.93,176.00 766.75,176.00 769.58,176.00 772.40,176.00 775.23,176.00 778.05,176.00 780.88,176.00 781.58,176.00"/>
<polyline class="cv" stroke="#5cffff" points="441.13,157.81 441.83,157.81 444.66,156.45 447.48,155.00 450.31,153.46 453.13,151.83 455.96,150.12 458.78,148.31 461.61,146.41 464.43,144.41 467.26,142.32 470.08,140.13 472.91,137.85 475.74,135.48 478.56,133.02 481.39,130.47 484.21,127.83 487.04,125.12 489.86,122.33 492.69,119.47 495.51,116.55 498.34,113.57 501.16,110.55 503.99,107.48 506.81,104.38 509.64,101.25 512.47,98.11 515.29,94.97 518.12,91.82 520.94,88.68 523.77,85.57 526.59,82.48 529.42,79.42 532.24,76.41 535.07,73.45 537.89,70.54 540.72,67.70 543.54,64.92 546.37,62.21 549.20,59.58 552.02,57.02 554.85,54.55 557.67,52.16 560.50,49.86 563.32,47.64 566.15,45.51 568.97,43.46 571.80,41.50 574.62,39.62 577.45,37.83 580.28,36.12 583.10,34.48 585.93,32.93 588.75,31.45 591.58,30.05 594.40,28.72 597.23,27.45 600.05,26.25 602.88,25.12 605.70,24.04 608.53,23.03 611.36,22.07 614.18,21.16 617.01,20.30 619.83,19.49 622.66,18.73 625.48,18.01 628.31,17.33 631.13,16.69 633.96,16.09 636.78,15.52 639.61,14.98 642.43,14.48 645.26,14.01 648.09,13.56 650.91,13.14 653.74,12.75 656.56,12.37 659.39,12.02 662.21,11.70 665.04,11.39 667.86,11.09 670.69,10.82 673.51,10.56 676.34,10.32 679.16,10.09 681.99,9.88 684.82,9.68 687.64,9.49 690.47,9.31 693.29,9.14 696.12,8.98 698.94,8.84 701.77,8.70 704.59,8.56 707.42,8.44 710.24,8.33 713.07,8.22 715.90,8.11 718.72,8.02 721.55,7.93 724.37,7.84 727.20,7.76 730.02,7.68 732.85,7.61 735.67,7.54 738.50,7.48 741.32,7.42 744.15,7.37 746.98,7.31 749.80,7.26 752.63,7.22 755.45,7.17 758.28,7.13 761.10,7.09 763.93,7.05 766.75,7.02 769.58,6.99 772.40,6.96 775.23,6.93 778.05,6.90 780.88,6.87 781.58,6.87"/>
<polyline class="cv" stroke="#cbcb2d" points="441.13,154.44 441.83,154.44 444.66,154.05 447.48,153.69 450.31,153.33 453.13,153.00 455.96,152.68 458.78,152.38 461.61,152.11 464.43,151.86 467.26,151.64 470.08,151.44 472.91,151.28 475.74,151.14 478.56,151.04 481.39,150.97 484.21,150.94 487.04,150.94 489.86,150.98 492.69,151.06 495.51,151.17 498.34,151.32 501.16,151.51 503.99,151.73 506.81,151.98 509.64,152.28 512.47,152.60 515.29,152.96 518.12,153.34 520.94,153.75 523.77,154.19 526.59,154.65 529.42,155.13 532.24,155.63 535.07,156.14 537.89,156.67 540.72,157.21 543.54,157.76 546.37,158.31 549.20,158.87 552.02,159.43 554.85,159.99 557.67,160.55 560.50,161.10 563.32,161.65 566.15,162.19 568.97,162.72 571.80,163.25 574.62,163.76 577.45,164.26 580.28,164.75 583.10,165.23 585.93,165.69 588.75,166.14 591.58,166.58 594.40,167.00 597.23,167.41 600.05,167.80 602.88,168.18 605.70,168.55 608.53,168.90 611.36,169.23 614.18,169.56 617.01,169.87 619.83,170.17 622.66,170.45 625.48,170.72 628.31,170.98 631.13,171.23 633.96,171.47 636.78,171.70 639.61,171.91 642.43,172.12 645.26,172.32 648.09,172.50 650.91,172.68 653.74,172.85 656.56,173.01 659.39,173.17 662.21,173.31 665.04,173.45 667.86,173.58 670.69,173.71 673.51,173.83 676.34,173.94 679.16,174.05 681.99,174.15 684.82,174.25 687.64,174.34 690.47,174.43 693.29,174.51 696.12,174.59 698.94,174.66 701.77,174.73 704.59,174.80 707.42,174.86 710.24,174.92 713.07,174.98 715.90,175.03 718.72,175.08 721.55,175.13 724.37,175.18 727.20,175.22 730.02,175.26 732.85,175.30 735.67,175.34 738.50,175.37 741.32,175.41 744.15,175.44 746.98,175.47 749.80,175.50 752.63,175.52 755.45,175.55 758.28,175.57 761.10,175.60 763.93,175.62 766.75,175.64 769.58,175.66 772.40,175.68 775.23,175.69 778.05,175.71 780.88,175.72 781.58,175.72"/>
</g>
<g>
<rect class="ax" x="441.83" y="218.45" width="339.05" height="169.55"/>
<path class="ax" d="M441.83 354.09h5.8M441.83 320.18h5.8M441.83 286.27h5.8M441.83 252.36h5.8M441.83 388.00v5.9M498.34 388.00v5.9M554.85 388.00v5.9M611.36 388.00v5.9M667.86 388.00v5.9M724.37 388.00v5.9M780.88 388.00v5.9"/>
<text x="435.03" y="394.80" text-anchor="end">0.0</text>
<text x="435.03" y="360.89" text-anchor="end">0.2</text>
<text x="435.03" y="326.98" text-anchor="end">0.4</text>
<text x="435.03" y="293.07" text-anchor="end">0.6</text>
<text x="435.03" y="259.16" text-anchor="end">0.8</text>
<text x="435.03" y="225.25" text-anchor="end">1.0</text>
<text x="441.83" y="411.50" text-anchor="middle">−3</text>
<text x="498.34" y="411.50" text-anchor="middle">−2</text>
<text x="554.85" y="411.50" text-anchor="middle">−1</text>
<text x="611.36" y="411.50" text-anchor="middle">0</text>
<text x="667.86" y="411.50" text-anchor="middle">1</text>
<text x="724.37" y="411.50" text-anchor="middle">2</text>
<text x="780.88" y="411.50" text-anchor="middle">3</text>
<text x="454.83" y="243.35">Item 11</text>
<polyline class="cv" stroke="#ff6464" points="441.13,335.48 441.83,335.48 444.66,336.36 447.48,337.25 450.31,338.15 453.13,339.07 455.96,340.00 458.78,340.95 461.61,341.90 464.43,342.87 467.26,343.85 470.08,344.85 472.91,345.85 475.74,346.87 478.56,347.90 481.39,348.94 484.21,349.98 487.04,351.04 489.86,352.10 492.69,353.17 495.51,354.25 498.34,355.33 501.16,356.41 503.99,357.50 506.81,358.58 509.64,359.66 512.47,360.74 515.29,361.82 518.12,362.88 520.94,363.94 523.77,364.99 526.59,366.03 529.42,367.05 532.24,368.05 535.07,369.04 537.89,370.00 540.72,370.95 543.54,371.87 546.37,372.77 549.20,373.63 552.02,374.48 554.85,375.29 557.67,376.07 560.50,376.83 563.32,377.55 566.15,378.24 568.97,378.90 571.80,379.53 574.62,380.12 577.45,380.69 580.28,381.22 583.10,381.73 585.93,382.20 588.75,382.64 591.58,383.06 594.40,383.45 597.23,383.82 600.05,384.16 602.88,384.47 605.70,384.77 608.53,385.04 611.36,385.29 614.18,385.52 617.01,385.74 619.83,385.94 622.66,386.12 625.48,386.29 628.31,386.44 631.13,386.58 633.96,386.71 636.78,386.83 639.61,386.93 642.43,387.03 645.26,387.12 648.09,387.20 650.91,387.28 653.74,387.35 656.56,387.41 659.39,387.47 662.21,387.52 665.04,387.56 667.86,387.60 670.69,387.64 673.51,387.68 676.34,387.71 679.16,387.74 681.99,387.76 684.82,387.79 687.64,387.81 690.47,387.83 693.29,387.84 696.12,387.86 698.94,387.87 701.77,387.88 704.59,387.90 707.42,387.91 710.24,387.92 713.07,387.92 715.90,387.93 718.72,387.94 721.55,387.94 724.37,387.95 727.20,387.96 730.02,387.96 732.85,387.96 735.67,387.97 738.50,387.97 741.32,387.97 744.15,387.98 746.98,387.98 749.80,387.98 752.63,387.98 755.45,387.98 758.28,387.99 761.10,387.99 763.93,387.99 766.75,387.99 769.58,387.99 772.40,387.99 775.23,387.99 778.05,387.99 780.88,387.99 781.58,387.99"/>
<polyline class="cv" stroke="#5aff5a" points="441.13,333.39 441.83,333.39 444.66,334.03 447.48,334.69 450.31,335.37 453.13,336.07 455.96,336.80 458.78,337.55 461.61,338.32 464.43,339.11 467.26,339.93 470.08,340.77 472.91,341.64 475.74,342.52 478.56,343.43 481.39,344.36 484.21,345.32 487.04,346.29 489.86,347.28 492.69,348.29 495.51,349.32 498.34,350.36 501.16,351.43 503.99,352.50 506.81,353.59 509.64,354.68 512.47,355.79 515.29,356.90 518.12,358.01 520.94,359.13 523.77,360.24 526.59,361.36 529.42,362.46 532.24,363.56 535.07,364.65 537.89,365.73 540.72,366.79 543.54,367.83 546.37,368.85 549.20,369.85 552.02,370.83 554.85,371.78 557.67,372.70 560.50,373.59 563.32,374.46 566.15,375.29 568.97,376.08 571.80,376.85 574.62,377.58 577.45,378.28 580.28,378.94 583.10,379.57 585.93,380.17 588.75,380.73 591.58,381.26 594.40,381.76 597.23,382.24 600.05,382.68 602.88,383.09 605.70,383.47 608.53,383.83 611.36,384.17 614.18,384.48 617.01,384.77 619.83,385.04 622.66,385.28 625.48,385.51 628.31,385.72 631.13,385.92 633.96,386.10 636.78,386.26 639.61,386.41 642.43,386.55 645.26,386.68 648.09,386.80 650.91,386.91 653.74,387.00 656.56,387.09 659.39,387.18 662.21,387.25 665.04,387.32 667.86,387.38 670.69,387.44 673.51,387.49 676.34,387.54 679.16,387.58 681.99,387.62 684.82,387.65 687.64,387.69 690.47,387.72 693.29,387.74 696.12,387.77 698.94,387.79 701.77,387.81 704.59,387.83 707.42,387.84 710.24,387.86 713.07,387.87 715.90,387.88 718.72,387.89 721.55,387.90 724.37,387.91 727.20,387.92 730.02,387.93 732.85,387.94 735.67,387.94 738.50,387.95 741.32,387.95 744.15,387.96 746.98,387.96 749.80,387.96 752.63,387.97 755.45,387.97 758.28,387.97 761.10,387.98 763.93,387.98 766.75,387.98 769.58,387.98 772.40,387.98 775.23,387.99 778.05,387.99 780.88,387.99 781.58,387.99"/>
<polyline class="cv" stroke="#6464ff" points="441.13,364.36 441.83,364.36 444.66,363.45 447.48,362.52 450.31,361.57 453.13,360.60 455.96,359.61 458.78,358.61 461.61,357.59 464.43,356.56 467.26,355.52 470.08,354.46 472.91,353.41 475.74,352.35 478.56,351.29 481.39,350.23 484.21,349.18 487.04,348.14 489.86,347.11 492.69,346.10 495.51,345.12 498.34,344.16 501.16,343.23 503.99,342.34 506.81,341.49 509.64,340.69 512.47,339.94 515.29,339.24 518.12,338.60 520.94,338.03 523.77,337.52 526.59,337.08 529.42,336.72 532.24,336.44 535.07,336.24 537.89,336.12 540.72,336.08 543.54,336.13 546.37,336.26 549.20,336.47 552.02,336.77 554.85,337.15 557.67,337.60 560.50,338.14 563.32,338.74 566.15,339.41 568.97,340.15 571.80,340.95 574.62,341.80 577.45,342.71 580.28,343.66 583.10,344.65 585.93,345.67 588.75,346.73 591.58,347.81 594.40,348.91 597.23,350.02 600.05,351.15 602.88,352.28 605.70,353.41 608.53,354.55 611.36,355.67 614.18,356.79 617.01,357.90 619.83,358.99 622.66,360.06 625.48,361.12 628.31,362.15 631.13,363.16 633.96,364.15 636.78,365.12 639.61,366.05 642.43,366.96 645.26,367.85 648.09,368.71 650.91,369.54 653.74,370.34 656.56,371.11 659.39,371.86 662.21,372.58 665.04,373.27 667.86,373.94 670.69,374.58 673.51,375.20 676.34,375.79 679.16,376.36 681.99,376.90 684.82,377.42 687.64,377.92 690.47,378.40 693.29,378.86 696.12,379.29 698.94,379.71 701.77,380.11 704.59,380.49 707.42,380.86 710.24,381.20 713.07,381.53 715.90,381.85 718.72,382.15 721.55,382.44 724.37,382.71 727.20,382.97 730.02,383.22 732.85,383.46 735.67,383.68 738.50,383.90 741.32,384.10 744.15,384.29 746.98,384.48 749.80,384.65 752.63,384.82 755.45,384.98 758.28,385.13 761.10,385.28 763.93,385.41 766.75,385.54 769.58,385.67 772.40,385.78 775.23,385.89 778.05,386.00 780.88,386.10 781.58,386.10"/>
<polyline class="cv" stroke="#5cffff" points="441.13,353.11 441.83,353.11 444.66,352.87 447.48,352.65 450.31,352.45 453.13,352.27 455.96,352.11 458.78,351.98 461.61,351.87 464.43,351.78 467.26,351.72 470.08,351.69 472.91,351.69 475.74,351.71 478.56,351.77 481.39,351.87 484.21,352.00 487.04,352.16 489.86,352.36 492.69,352.59 495.51,352.86 498.34,353.17 501.16,353.52 503.99,353.91 506.81,354.33 509.64,354.80 512.47,355.30 515.29,355.84 518.12,356.41 520.94,357.02 523.77,357.66 526.59,358.33 529.42,359.03 532.24,359.76 535.07,360.51 537.89,361.29 540.72,362.09 543.54,362.90 546.37,363.73 549.20,364.56 552.02,365.41 554.85,366.26 557.67,367.11 560.50,367.96 563.32,368.81 566.15,369.65 568.97,370.48 571.80,371.30 574.62,372.10 577.45,372.89 580.28,373.66 583.10,374.40 585.93,375.13 588.75,375.83 591.58,376.51 594.40,377.17 597.23,377.80 600.05,378.40 602.88,378.98 605.70,379.53 608.53,380.06 611.36,380.56 614.18,381.04 617.01,381.49 619.83,381.92 622.66,382.32 625.48,382.70 628.31,383.06 631.13,383.40 633.96,383.72 636.78,384.02 639.61,384.30 642.43,384.56 645.26,384.80 648.09,385.03 650.91,385.25 653.74,385.45 656.56,385.63 659.39,385.81 662.21,385.97 665.04,386.12 667.86,386.26 670.69,386.39 673.51,386.51 676.34,386.62 679.16,386.73 681.99,386.82 684.82,386.91 687.64,387.00 690.47,387.07 693.29,387.14 696.12,387.21 698.94,387.27 701.77,387.33 704.59,387.38 707.42,387.43 710.24,387.47 713.07,387.51 715.90,387.55 718.72,387.59 721.55,387.62 724.37,387.65 727.20,387.68 730.02,387.70 732.85,387.72 735.67,387.75 738.50,387.77 741.32,387.78 744.15,387.80 746.98,387.82 749.80,387.83 752.63,387.84 755.45,387.86 758.28,387.87 761.10,387.88 763.93,387.89 766.75,387.90 769.58,387.91 772.40,387.91 775.23,387.92 778.05,387.93 780.88,387.93 781.58,387.93"/>
<polyline class="cv" stroke="#cbcb2d" points="441.13,384.11 441.83,384.11 444.66,383.74 447.48,383.34 450.31,382.91 453.13,382.44 455.96,381.93 458.78,381.37 461.61,380.77 464.43,380.13 467.26,379.43 470.08,378.68 472.91,377.87 475.74,376.99 478.56,376.06 481.39,375.05 484.21,373.98 487.04,372.83 489.86,371.60 492.69,370.29 495.51,368.90 498.34,367.42 501.16,365.86 503.99,364.20 506.81,362.46 509.64,360.62 512.47,358.69 515.29,356.66 518.12,354.55 520.94,352.34 523.77,350.04 526.59,347.66 529.42,345.19 532.24,342.64 535.07,340.01 537.89,337.31 540.72,334.55 543.54,331.72 546.37,328.85 549.20,325.93 552.02,322.97 554.85,319.97 557.67,316.96 560.50,313.93 563.32,310.90 566.15,307.86 568.97,304.84 571.80,301.83 574.62,298.84 577.45,295.89 580.28,292.97 583.10,290.10 585.93,287.28 588.75,284.51 591.58,281.80 594.40,279.15 597.23,276.57 600.05,274.06 602.88,271.63 605.70,269.26 608.53,266.97 611.36,264.76 614.18,262.62 617.01,260.56 619.83,258.58 622.66,256.67 625.48,254.83 628.31,253.08 631.13,251.39 633.96,249.78 636.78,248.23 639.61,246.75 642.43,245.34 645.26,243.99 648.09,242.71 650.91,241.48 653.74,240.31 656.56,239.20 659.39,238.14 662.21,237.13 665.04,236.17 667.86,235.26 670.69,234.40 673.51,233.57 676.34,232.79 679.16,232.05 681.99,231.34 684.82,230.67 687.64,230.04 690.47,229.44 693.29,228.86 696.12,228.32 698.94,227.81 701.77,227.32 704.59,226.86 707.42,226.42 710.24,226.00 713.07,225.61 715.90,225.24 718.72,224.88 721.55,224.55 724.37,224.23 727.20,223.93 730.02,223.64 732.85,223.37 735.67,223.11 738.50,222.87 741.32,222.64 744.15,222.42 746.98,222.22 749.80,222.02 752.63,221.83 755.45,221.66 758.28,221.49 761.10,221.33 763.93,221.18 766.75,221.04 769.58,220.91 772.40,220.78 775.23,220.66 778.05,220.54 780.88,220.43 781.58,220.43"/>
</g>
<g>
<rect class="ax" x="441.83" y="430.45" width="339.05" height="169.55"/>
<path class="ax" d="M441.83 566.09h5.8M441.83 532.18h5.8M441.83 498.27h5.8M441.83 464.36h5.8M441.83 600.00v5.9M498.34 600.00v5.9M554.85 600.00v5.9M611.36 600.00v5.9M667.86 600.00v5.9M724.37 600.00v5.9M780.88 600.00v5.9"/>
<text x="435.03" y="606.80" text-anchor="end">0.0</text>
<text x="435.03" y="572.89" text-anchor="end">0.2</text>
<text x="435.03" y="538.98" text-anchor="end">0.4</text>
<text x="435.03" y="505.07" text-anchor="end">0.6</text>
<text x="435.03" y="471.16" text-anchor="end">0.8</text>
<text x="435.03" y="437.25" text-anchor="end">1.0</text>
<text x="441.83" y="623.50" text-anchor="middle">−3</text>
<text x="498.34" y="623.50" text-anchor="middle">−2</text>
<text x="554.85" y="623.50" text-anchor="middle">−1</text>
<text x="611.36" y="623.50" text-anchor="middle">0</text>
<text x="667.86" y="623.50" text-anchor="middle">1</text>
<text x="724.37" y="623.50" text-anchor="middle">2</text>
<text x="780.88" y="623.50" text-anchor="middle">3</text>
<text x="454.83" y="455.35">Item 12</text>
<polyline class="cv" stroke="#ff6464" points="441.13,568.84 441.83,568.84 444.66,567.90 447.48,566.97 450.31,566.07 453.13,565.19 455.96,564.33 458.78,563.51 461.61,562.72 464.43,561.98 467.26,561.28 470.08,560.63 472.91,560.03 475.74,559.49 478.56,559.01 481.39,558.60 484.21,558.25 487.04,557.98 489.86,557.78 492.69,557.66 495.51,557.61 498.34,557.65 501.16,557.77 503.99,557.97 506.81,558.25 509.64,558.61 512.47,559.06 515.29,559.58 518.12,560.19 520.94,560.87 523.77,561.63 526.59,562.46 529.42,563.35 532.24,564.31 535.07,565.32 537.89,566.39 540.72,567.50 543.54,568.66 546.37,569.85 549.20,571.07 552.02,572.31 554.85,573.56 557.67,574.83 560.50,576.09 563.32,577.35 566.15,578.59 568.97,579.82 571.80,581.02 574.62,582.19 577.45,583.33 580.28,584.44 583.10,585.50 585.93,586.52 588.75,587.49 591.58,588.42 594.40,589.30 597.23,590.13 600.05,590.91 602.88,591.64 605.70,592.33 608.53,592.97 611.36,593.57 614.18,594.12 617.01,594.63 619.83,595.11 622.66,595.54 625.48,595.95 628.31,596.32 631.13,596.66 633.96,596.97 636.78,597.25 639.61,597.51 642.43,597.74 645.26,597.96 648.09,598.15 650.91,598.33 653.74,598.49 656.56,598.64 659.39,598.77 662.21,598.89 665.04,599.00 667.86,599.10 670.69,599.19 673.51,599.27 676.34,599.34 679.16,599.41 681.99,599.47 684.82,599.52 687.64,599.57 690.47,599.61 693.29,599.65 696.12,599.69 698.94,599.72 701.77,599.75 704.59,599.77 707.42,599.79 710.24,599.82 713.07,599.83 715.90,599.85 718.72,599.87 721.55,599.88 724.37,599.89 727.20,599.90 730.02,599.91 732.85,599.92 735.67,599.93 738.50,599.94 741.32,599.94 744.15,599.95 746.98,599.95 749.80,599.96 752.63,599.96 755.45,599.97 758.28,599.97 761.10,599.97 763.93,599.98 766.75,599.98 769.58,599.98 772.40,599.98 775.23,599.98 778.05,599.99 780.88,599.99 781.58,599.99"/>
<polyline class="cv" stroke="#5aff5a" points="441.13,598.97 441.83,598.97 444.66,598.82 447.48,598.65 450.31,598.45 453.13,598.23 455.96,597.98 458.78,597.70 461.61,597.38 464.43,597.03 467.26,596.63 470.08,596.18 472.91,595.68 475.74,595.13 478.56,594.51 481.39,593.83 484.21,593.07 487.04,592.23 489.86,591.31 492.69,590.29 495.51,589.18 498.34,587.96 501.16,586.63 503.99,585.18 506.81,583.61 509.64,581.91 512.47,580.07 515.29,578.09 518.12,575.97 520.94,573.70 523.77,571.28 526.59,568.71 529.42,565.98 532.24,563.11 535.07,560.09 537.89,556.92 540.72,553.62 543.54,550.19 546.37,546.64 549.20,542.99 552.02,539.23 554.85,535.40 557.67,531.50 560.50,527.54 563.32,523.56 566.15,519.55 568.97,515.55 571.80,511.56 574.62,507.61 577.45,503.70 580.28,499.86 583.10,496.10 585.93,492.43 588.75,488.87 591.58,485.41 594.40,482.08 597.23,478.87 600.05,475.80 602.88,472.86 605.70,470.05 608.53,467.39 611.36,464.86 614.18,462.47 617.01,460.22 619.83,458.10 622.66,456.10 625.48,454.23 628.31,452.48 631.13,450.84 633.96,449.31 636.78,447.89 639.61,446.56 642.43,445.32 645.26,444.18 648.09,443.12 650.91,442.13 653.74,441.22 656.56,440.37 659.39,439.59 662.21,438.87 665.04,438.20 667.86,437.59 670.69,437.02 673.51,436.49 676.34,436.01 679.16,435.57 681.99,435.16 684.82,434.78 687.64,434.43 690.47,434.11 693.29,433.82 696.12,433.55 698.94,433.30 701.77,433.07 704.59,432.86 707.42,432.66 710.24,432.48 713.07,432.32 715.90,432.17 718.72,432.03 721.55,431.90 724.37,431.79 727.20,431.68 730.02,431.58 732.85,431.49 735.67,431.40 738.50,431.33 741.32,431.26 744.15,431.19 746.98,431.13 749.80,431.08 752.63,431.03 755.45,430.98 758.28,430.94 761.10,430.90 763.93,430.86 766.75,430.83 769.58,430.80 772.40,430.77 775.23,430.75 778.05,430.72 780.88,430.70 781.58,430.70"/>
<polyline class="cv" stroke="#6464ff" points="441.13,577.28 441.83,577.28 444.66,576.10 447.48,574.90 450.31,573.67 453.13,572.42 455.96,571.15 458.78,569.86 461.61,568.56 464.43,567.26 467.26,565.95 470.08,564.65 472.91,563.36 475.74,562.09 478.56,560.83 481.39,559.60 484.21,558.41 487.04,557.26 489.86,556.15 492.69,555.10 495.51,554.10 498.34,553.18 501.16,552.33 503.99,551.55 506.81,550.87 509.64,550.27 512.47,549.77 515.29,549.37 518.12,549.08 520.94,548.90 523.77,548.84 526.59,548.89 529.42,549.05 532.24,549.34 535.07,549.74 537.89,550.27 540.72,550.90 543.54,551.65 546.37,552.51 549.20,553.47 552.02,554.53 554.85,555.68 557.67,556.91 560.50,558.21 563.32,559.57 566.15,560.99 568.97,562.45 571.80,563.94 574.62,565.46 577.45,566.99 580.28,568.53 583.10,570.06 585.93,571.58 588.75,573.07 591.58,574.54 594.40,575.98 597.23,577.38 600.05,578.73 602.88,580.04 605.70,581.29 608.53,582.49 611.36,583.64 614.18,584.74 617.01,585.77 619.83,586.76 622.66,587.69 625.48,588.56 628.31,589.39 631.13,590.16 633.96,590.89 636.78,591.56 639.61,592.20 642.43,592.79 645.26,593.34 648.09,593.85 650.91,594.33 653.74,594.77 656.56,595.18 659.39,595.56 662.21,595.91 665.04,596.23 667.86,596.53 670.69,596.81 673.51,597.06 676.34,597.30 679.16,597.52 681.99,597.72 684.82,597.90 687.64,598.07 690.47,598.23 693.29,598.37 696.12,598.51 698.94,598.63 701.77,598.74 704.59,598.84 707.42,598.94 710.24,599.03 713.07,599.11 715.90,599.18 718.72,599.25 721.55,599.31 724.37,599.37 727.20,599.42 730.02,599.47 732.85,599.51 735.67,599.55 738.50,599.59 741.32,599.62 744.15,599.65 746.98,599.68 749.80,599.71 752.63,599.73 755.45,599.75 758.28,599.78 761.10,599.79 763.93,599.81 766.75,599.83 769.58,599.84 772.40,599.85 775.23,599.87 778.05,599.88 780.88,599.89 781.58,599.89"/>
<polyline class="cv" stroke="#5cffff" points="441.13,494.49 441.83,494.49 444.66,497.31 447.48,500.18 450.31,503.11 453.13,506.08 455.96,509.08 458.78,512.12 461.61,515.18 464.43,518.26 467.26,521.34 470.08,524.44 472.91,527.52 475.74,530.60 478.56,533.65 481.39,536.68 484.21,539.68 487.04,542.63 489.86,545.54 492.69,548.40 495.51,551.19 498.34,553.93 501.16,556.59 503.99,559.18 506.81,561.69 509.64,564.12 512.47,566.47 515.29,568.72 518.12,570.89 520.94,572.97 523.77,574.96 526.59,576.85 529.42,578.65 532.24,580.35 535.07,581.96 537.89,583.48 540.72,584.91 543.54,586.25 546.37,587.50 549.20,588.67 552.02,589.76 554.85,590.76 557.67,591.69 560.50,592.54 563.32,593.32 566.15,594.04 568.97,594.69 571.80,595.28 574.62,595.82 577.45,596.30 580.28,596.74 583.10,597.13 585.93,597.48 588.75,597.79 591.58,598.06 594.40,598.31 597.23,598.53 600.05,598.72 602.88,598.89 605.70,599.03 608.53,599.16 611.36,599.28 614.18,599.38 617.01,599.46 619.83,599.54 622.66,599.60 625.48,599.66 628.31,599.71 631.13,599.75 633.96,599.78 636.78,599.81 639.61,599.84 642.43,599.86 645.26,599.88 648.09,599.90 650.91,599.92 653.74,599.93 656.56,599.94 659.39,599.95 662.21,599.96 665.04,599.96 667.86,599.97 670.69,599.97 673.51,599.98 676.34,599.98 679.16,599.98 681.99,599.99 684.82,599.99 687.64,599.99 690.47,599.99 693.29,599.99 696.12,599.99 698.94,599.99 701.77,600.00 704.59,600.00 707.42,600.00 710.24,600.00 713.07,600.00 715.90,600.00 718.72,600.00 721.55,600.00 724.37,600.00 727.20,600.00 730.02,600.00 732.85,600.00 735.67,600.00 738.50,600.00 741.32,600.00 744.15,600.00 746.98,600.00 749.80,600.00 752.63,600.00 755.45,600.00 758.28,600.00 761.10,600.00 763.93,600.00 766.75,600.00 769.58,600.00 772.40,600.00 775.23,600.00 778.05,600.00 780.88,600.00 781.58,600.00"/>
<polyline class="cv" stroke="#cbcb2d" points="441.13,590.87 441.83,590.87 444.66,590.32 447.48,589.75 450.31,589.15 453.13,588.54 455.96,587.91 458.78,587.26 461.61,586.60 464.43,585.93 467.26,585.25 470.08,584.55 472.91,583.85 475.74,583.15 478.56,582.44 481.39,581.74 484.21,581.04 487.04,580.35 489.86,579.67 492.69,579.01 495.51,578.36 498.34,577.74 501.16,577.14 503.99,576.57 506.81,576.04 509.64,575.54 512.47,575.09 515.29,574.68 518.12,574.32 520.94,574.01 523.77,573.75 526.59,573.56 529.42,573.42 532.24,573.35 535.07,573.33 537.89,573.39 540.72,573.51 543.54,573.69 546.37,573.94 549.20,574.25 552.02,574.62 554.85,575.05 557.67,575.54 560.50,576.07 563.32,576.66 566.15,577.29 568.97,577.95 571.80,578.65 574.62,579.38 577.45,580.12 580.28,580.89 583.10,581.66 585.93,582.45 588.75,583.23 591.58,584.01 594.40,584.78 597.23,585.55 600.05,586.30 602.88,587.03 605.70,587.74 608.53,588.43 611.36,589.10 614.18,589.74 617.01,590.36 619.83,590.95 622.66,591.51 625.48,592.05 628.31,592.56 631.13,593.05 633.96,593.50 636.78,593.94 639.61,594.34 642.43,594.73 645.26,595.09 648.09,595.43 650.91,595.75 653.74,596.04 656.56,596.32 659.39,596.58 662.21,596.83 665.04,597.05 667.86,597.26 670.69,597.46 673.51,597.64 676.34,597.82 679.16,597.97 681.99,598.12 684.82,598.26 687.64,598.39 690.47,598.51 693.29,598.62 696.12,598.72 698.94,598.81 701.77,598.90 704.59,598.98 707.42,599.06 710.24,599.13 713.07,599.19 715.90,599.25 718.72,599.31 721.55,599.36 724.37,599.41 727.20,599.45 730.02,599.49 732.85,599.53 735.67,599.57 738.50,599.60 741.32,599.63 744.15,599.66 746.98,599.68 749.80,599.71 752.63,599.73 755.45,599.75 758.28,599.77 761.10,599.79 763.93,599.80 766.75,599.82 769.58,599.83 772.40,599.84 775.23,599.85 778.05,599.87 780.88,599.88 781.58,599.88"/>
</g>
<g>
<rect class="ax" x="441.83" y="642.45" width="339.05" height="169.55"/>
<path class="ax" d="M441.83 778.09h5.8M441.83 744.18h5.8M441.83 710.27h5.8M441.83 676.36h5.8M441.83 812.00v5.9M498.34 812.00v5.9M554.85 812.00v5.9M611.36 812.00v5.9M667.86 812.00v5.9M724.37 812.00v5.9M780.88 812.00v5.9"/>
<text x="435.03" y="818.80" text-anchor="end">0.0</text>
<text x="435.03" y="784.89" text-anchor="end">0.2</text>
<text x="435.03" y="750.98" text-anchor="end">0.4</text>
<text x="435.03" y="717.07" text-anchor="end">0.6</text>
<text x="435.03" y="683.16" text-anchor="end">0.8</text>
<text x="435.03" y="649.25" text-anchor="end">1.0</text>
<text x="441.83" y="835.50" text-anchor="middle">−3</text>
<text x="498.34" y="835.50" text-anchor="middle">−2</text>
<text x="554.85" y="835.50" text-anchor="middle">−1</text>
<text x="611.36" y="835.50" text-anchor="middle">0</text>
<text x="667.86" y="835.50" text-anchor="middle">1</text>
<text x="724.37" y="835.50" text-anchor="middle">2</text>
<text x="780.88" y="835.50" text-anchor="middle">3</text>
<text x="454.83" y="667.35">Item 15</text>
<text x="616.65" y="867.00" text-anchor="middle">Ability, θ</text>
<polyline class="cv" stroke="#ff6464" points="441.13,786.58 441.83,786.58 444.66,786.27 447.48,785.97 450.31,785.67 453.13,785.38 455.96,785.10 458.78,784.83 461.61,784.56 464.43,784.31 467.26,784.06 470.08,783.82 472.91,783.60 475.74,783.38 478.56,783.18 481.39,782.98 484.21,782.80 487.04,782.64 489.86,782.48 492.69,782.34 495.51,782.22 498.34,782.11 501.16,782.01 503.99,781.93 506.81,781.87 509.64,781.82 512.47,781.79 515.29,781.77 518.12,781.77 520.94,781.78 523.77,781.82 526.59,781.87 529.42,781.93 532.24,782.02 535.07,782.12 537.89,782.23 540.72,782.37 543.54,782.51 546.37,782.68 549.20,782.86 552.02,783.05 554.85,783.27 557.67,783.49 560.50,783.73 563.32,783.98 566.15,784.25 568.97,784.53 571.80,784.82 574.62,785.12 577.45,785.44 580.28,785.76 583.10,786.10 585.93,786.44 588.75,786.79 591.58,787.15 594.40,787.52 597.23,787.89 600.05,788.28 602.88,788.66 605.70,789.05 608.53,789.45 611.36,789.85 614.18,790.25 617.01,790.65 619.83,791.06 622.66,791.47 625.48,791.87 628.31,792.28 631.13,792.69 633.96,793.10 636.78,793.50 639.61,793.91 642.43,794.31 645.26,794.71 648.09,795.11 650.91,795.50 653.74,795.89 656.56,796.28 659.39,796.66 662.21,797.03 665.04,797.41 667.86,797.77 670.69,798.14 673.51,798.49 676.34,798.85 679.16,799.19 681.99,799.53 684.82,799.87 687.64,800.19 690.47,800.52 693.29,800.83 696.12,801.14 698.94,801.45 701.77,801.74 704.59,802.04 707.42,802.32 710.24,802.60 713.07,802.87 715.90,803.14 718.72,803.40 721.55,803.65 724.37,803.90 727.20,804.14 730.02,804.38 732.85,804.61 735.67,804.83 738.50,805.05 741.32,805.26 744.15,805.47 746.98,805.67 749.80,805.87 752.63,806.06 755.45,806.24 758.28,806.42 761.10,806.60 763.93,806.77 766.75,806.93 769.58,807.10 772.40,807.25 775.23,807.40 778.05,807.55 780.88,807.69 781.58,807.69"/>
<polyline class="cv" stroke="#5aff5a" points="441.13,799.10 441.83,799.10 444.66,798.47 447.48,797.82 450.31,797.14 453.13,796.43 455.96,795.70 458.78,794.94 461.61,794.15 464.43,793.33 467.26,792.48 470.08,791.61 472.91,790.70 475.74,789.76 478.56,788.79 481.39,787.79 484.21,786.76 487.04,785.70 489.86,784.61 492.69,783.48 495.51,782.33 498.34,781.14 501.16,779.92 503.99,778.67 506.81,777.39 509.64,776.09 512.47,774.75 515.29,773.38 518.12,771.98 520.94,770.56 523.77,769.11 526.59,767.63 529.42,766.13 532.24,764.60 535.07,763.05 537.89,761.48 540.72,759.88 543.54,758.27 546.37,756.64 549.20,754.99 552.02,753.32 554.85,751.64 557.67,749.95 560.50,748.25 563.32,746.54 566.15,744.81 568.97,743.09 571.80,741.35 574.62,739.61 577.45,737.87 580.28,736.13 583.10,734.39 585.93,732.65 588.75,730.92 591.58,729.19 594.40,727.46 597.23,725.75 600.05,724.04 602.88,722.34 605.70,720.66 608.53,718.99 611.36,717.33 614.18,715.69 617.01,714.06 619.83,712.45 622.66,710.86 625.48,709.28 628.31,707.73 631.13,706.19 633.96,704.68 636.78,703.19 639.61,701.72 642.43,700.27 645.26,698.85 648.09,697.45 650.91,696.07 653.74,694.71 656.56,693.39 659.39,692.08 662.21,690.80 665.04,689.55 667.86,688.31 670.69,687.11 673.51,685.93 676.34,684.77 679.16,683.64 681.99,682.53 684.82,681.45 687.64,680.39 690.47,679.35 693.29,678.34 696.12,677.35 698.94,676.39 701.77,675.45 704.59,674.53 707.42,673.63 710.24,672.76 713.07,671.90 715.90,671.07 718.72,670.26 721.55,669.47 724.37,668.70 727.20,667.95 730.02,667.22 732.85,666.51 735.67,665.82 738.50,665.15 741.32,664.49 744.15,663.85 746.98,663.23 749.80,662.63 752.63,662.04 755.45,661.47 758.28,660.92 761.10,660.38 763.93,659.85 766.75,659.34 769.58,658.85 772.40,658.36 775.23,657.90 778.05,657.44 780.88,657.00 781.58,657.00"/>
<polyline class="cv" stroke="#6464ff" points="441.13,800.77 441.83,800.77 444.66,800.60 447.48,800.43 450.31,800.25 453.13,800.09 455.96,799.92 458.78,799.76 461.61,799.59 464.43,799.44 467.26,799.28 470.08,799.13 472.91,798.98 475.74,798.84 478.56,798.70 481.39,798.57 484.21,798.44 487.04,798.32 489.86,798.20 492.69,798.09 495.51,797.98 498.34,797.88 501.16,797.79 503.99,797.70 506.81,797.62 509.64,797.55 512.47,797.49 515.29,797.43 518.12,797.38 520.94,797.34 523.77,797.31 526.59,797.28 529.42,797.27 532.24,797.26 535.07,797.26 537.89,797.27 540.72,797.28 543.54,797.31 546.37,797.34 549.20,797.38 552.02,797.43 554.85,797.49 557.67,797.55 560.50,797.63 563.32,797.71 566.15,797.80 568.97,797.89 571.80,797.99 574.62,798.10 577.45,798.22 580.28,798.34 583.10,798.47 585.93,798.61 588.75,798.75 591.58,798.89 594.40,799.04 597.23,799.20 600.05,799.36 602.88,799.52 605.70,799.69 608.53,799.86 611.36,800.04 614.18,800.21 617.01,800.39 619.83,800.58 622.66,800.76 625.48,800.95 628.31,801.13 631.13,801.32 633.96,801.51 636.78,801.70 639.61,801.90 642.43,802.09 645.26,802.28 648.09,802.47 650.91,802.66 653.74,802.85 656.56,803.04 659.39,803.23 662.21,803.41 665.04,803.60 667.86,803.78 670.69,803.97 673.51,804.15 676.34,804.33 679.16,804.50 681.99,804.68 684.82,804.85 687.64,805.02 690.47,805.19 693.29,805.35 696.12,805.52 698.94,805.68 701.77,805.83 704.59,805.99 707.42,806.14 710.24,806.29 713.07,806.44 715.90,806.58 718.72,806.72 721.55,806.86 724.37,807.00 727.20,807.13 730.02,807.26 732.85,807.39 735.67,807.51 738.50,807.63 741.32,807.75 744.15,807.87 746.98,807.98 749.80,808.10 752.63,808.20 755.45,808.31 758.28,808.41 761.10,808.52 763.93,808.61 766.75,808.71 769.58,808.80 772.40,808.90 775.23,808.98 778.05,809.07 780.88,809.16 781.58,809.16"/>
<polyline class="cv" stroke="#5cffff" points="441.13,707.12 441.83,707.12 444.66,708.53 447.48,709.97 450.31,711.42 453.13,712.89 455.96,714.37 458.78,715.87 461.61,717.39 464.43,718.92 467.26,720.46 470.08,722.02 472.91,723.59 475.74,725.18 478.56,726.77 481.39,728.37 484.21,729.98 487.04,731.60 489.86,733.22 492.69,734.85 495.51,736.49 498.34,738.12 501.16,739.76 503.99,741.40 506.81,743.04 509.64,744.67 512.47,746.30 515.29,747.93 518.12,749.55 520.94,751.16 523.77,752.77 526.59,754.36 529.42,755.94 532.24,757.51 535.07,759.07 537.89,760.61 540.72,762.13 543.54,763.63 546.37,765.12 549.20,766.59 552.02,768.03 554.85,769.46 557.67,770.86 560.50,772.24 563.32,773.59 566.15,774.92 568.97,776.22 571.80,777.49 574.62,778.74 577.45,779.96 580.28,781.15 583.10,782.32 585.93,783.45 588.75,784.56 591.58,785.63 594.40,786.68 597.23,787.70 600.05,788.69 602.88,789.65 605.70,790.58 608.53,791.48 611.36,792.35 614.18,793.20 617.01,794.01 619.83,794.80 622.66,795.56 625.48,796.30 628.31,797.00 631.13,797.69 633.96,798.34 636.78,798.97 639.61,799.58 642.43,800.16 645.26,800.72 648.09,801.26 650.91,801.78 653.74,802.27 656.56,802.74 659.39,803.20 662.21,803.63 665.04,804.05 667.86,804.44 670.69,804.82 673.51,805.18 676.34,805.53 679.16,805.86 681.99,806.17 684.82,806.47 687.64,806.76 690.47,807.03 693.29,807.29 696.12,807.54 698.94,807.77 701.77,807.99 704.59,808.21 707.42,808.41 710.24,808.60 713.07,808.78 715.90,808.95 718.72,809.12 721.55,809.27 724.37,809.42 727.20,809.56 730.02,809.70 732.85,809.82 735.67,809.94 738.50,810.05 741.32,810.16 744.15,810.26 746.98,810.36 749.80,810.45 752.63,810.54 755.45,810.62 758.28,810.69 761.10,810.77 763.93,810.84 766.75,810.90 769.58,810.96 772.40,811.02 775.23,811.08 778.05,811.13 780.88,811.18 781.58,811.18"/>
<polyline class="cv" stroke="#cbcb2d" points="441.13,796.88 441.83,796.88 444.66,796.57 447.48,796.27 450.31,795.97 453.13,795.66 455.96,795.36 458.78,795.06 461.61,794.76 464.43,794.46 467.26,794.16 470.08,793.87 472.91,793.58 475.74,793.29 478.56,793.01 481.39,792.73 484.21,792.46 487.04,792.19 489.86,791.93 492.69,791.68 495.51,791.43 498.34,791.19 501.16,790.96 503.99,790.74 506.81,790.53 509.64,790.32 512.47,790.13 515.29,789.94 518.12,789.77 520.94,789.60 523.77,789.45 526.59,789.31 529.42,789.18 532.24,789.07 535.07,788.96 537.89,788.87 540.72,788.79 543.54,788.73 546.37,788.67 549.20,788.63 552.02,788.61 554.85,788.60 557.67,788.60 560.50,788.61 563.32,788.64 566.15,788.68 568.97,788.73 571.80,788.79 574.62,788.87 577.45,788.96 580.28,789.06 583.10,789.18 585.93,789.30 588.75,789.44 591.58,789.59 594.40,789.74 597.23,789.91 600.05,790.09 602.88,790.27 605.70,790.47 608.53,790.67 611.36,790.89 614.18,791.11 617.01,791.33 619.83,791.57 622.66,791.80 625.48,792.05 628.31,792.30 631.13,792.56 633.96,792.82 636.78,793.08 639.61,793.35 642.43,793.62 645.26,793.89 648.09,794.17 650.91,794.44 653.74,794.72 656.56,795.01 659.39,795.29 662.21,795.57 665.04,795.85 667.86,796.13 670.69,796.42 673.51,796.70 676.34,796.98 679.16,797.26 681.99,797.54 684.82,797.81 687.64,798.09 690.47,798.36 693.29,798.63 696.12,798.90 698.94,799.17 701.77,799.43 704.59,799.69 707.42,799.95 710.24,800.20 713.07,800.46 715.90,800.70 718.72,800.95 721.55,801.19 724.37,801.43 727.20,801.66 730.02,801.89 732.85,802.12 735.67,802.35 738.50,802.57 741.32,802.78 744.15,802.99 746.98,803.20 749.80,803.41 752.63,803.61 755.45,803.81 758.28,804.00 761.10,804.19 763.93,804.38 766.75,804.56 769.58,804.74 772.40,804.92 775.23,805.09 778.05,805.26 780.88,805.42 781.58,805.42"/>
</g>
<g>
<rect class="ax" x="823.51" y="6.45" width="339.05" height="169.55"/>
<path class="ax" d="M823.51 142.09h5.8M823.51 108.18h5.8M823.51 74.27h5.8M823.51 40.36h5.8M823.51 176.00v5.9M880.02 176.00v5.9M936.53 176.00v5.9M993.03 176.00v5.9M1049.54 176.00v5.9M1106.05 176.00v5.9M1162.56 176.00v5.9"/>
<text x="816.71" y="182.80" text-anchor="end">0.0</text>
<text x="816.71" y="148.89" text-anchor="end">0.2</text>
<text x="816.71" y="114.98" text-anchor="end">0.4</text>
<text x="816.71" y="81.07" text-anchor="end">0.6</text>
<text x="816.71" y="47.16" text-anchor="end">0.8</text>
<text x="816.71" y="13.25" text-anchor="end">1.0</text>
<text x="823.51" y="199.50" text-anchor="middle">−3</text>
<text x="880.02" y="199.50" text-anchor="middle">−2</text>
<text x="936.53" y="199.50" text-anchor="middle">−1</text>
<text x="993.03" y="199.50" text-anchor="middle">0</text>
<text x="1049.54" y="199.50" text-anchor="middle">1</text>
<text x="1106.05" y="199.50" text-anchor="middle">2</text>
<text x="1162.56" y="199.50" text-anchor="middle">3</text>
<text x="836.51" y="31.35">Item 16</text>
<polyline class="cv" stroke="#ff6464" points="822.81,128.80 823.51,128.80 826.34,129.03 829.16,129.27 831.99,129.51 834.81,129.76 837.64,130.02 840.46,130.27 843.29,130.54 846.11,130.80 848.94,131.08 851.76,131.35 854.59,131.64 857.41,131.92 860.24,132.21 863.07,132.51 865.89,132.81 868.72,133.12 871.54,133.43 874.37,133.74 877.19,134.06 880.02,134.38 882.84,134.71 885.67,135.05 888.49,135.38 891.32,135.73 894.15,136.07 896.97,136.42 899.80,136.78 902.62,137.14 905.45,137.50 908.27,137.86 911.10,138.23 913.92,138.61 916.75,138.98 919.57,139.36 922.40,139.75 925.23,140.14 928.05,140.53 930.88,140.92 933.70,141.31 936.53,141.71 939.35,142.11 942.18,142.52 945.00,142.92 947.83,143.33 950.65,143.74 953.48,144.15 956.30,144.56 959.13,144.98 961.96,145.39 964.78,145.81 967.61,146.23 970.43,146.64 973.26,147.06 976.08,147.48 978.91,147.90 981.73,148.32 984.56,148.74 987.38,149.16 990.21,149.57 993.03,149.99 995.86,150.41 998.69,150.82 1001.51,151.24 1004.34,151.65 1007.16,152.06 1009.99,152.47 1012.81,152.88 1015.64,153.28 1018.46,153.68 1021.29,154.09 1024.11,154.48 1026.94,154.88 1029.77,155.27 1032.59,155.66 1035.42,156.05 1038.24,156.43 1041.07,156.81 1043.89,157.19 1046.72,157.56 1049.54,157.93 1052.37,158.30 1055.19,158.66 1058.02,159.02 1060.85,159.37 1063.67,159.72 1066.50,160.06 1069.32,160.40 1072.15,160.74 1074.97,161.07 1077.80,161.40 1080.62,161.72 1083.45,162.04 1086.27,162.35 1089.10,162.66 1091.92,162.97 1094.75,163.27 1097.58,163.56 1100.40,163.85 1103.23,164.14 1106.05,164.42 1108.88,164.69 1111.70,164.96 1114.53,165.23 1117.35,165.49 1120.18,165.75 1123.00,166.00 1125.83,166.25 1128.65,166.49 1131.48,166.73 1134.31,166.96 1137.13,167.19 1139.96,167.41 1142.78,167.63 1145.61,167.85 1148.43,168.06 1151.26,168.26 1154.08,168.46 1156.91,168.66 1159.73,168.85 1162.56,169.04 1163.26,169.04"/>
<polyline class="cv" stroke="#5aff5a" points="822.81,149.53 823.51,149.53 826.34,149.76 829.16,150.00 831.99,150.24 834.81,150.48 837.64,150.72 840.46,150.97 843.29,151.21 846.11,151.46 848.94,151.70 851.76,151.95 854.59,152.20 857.41,152.45 860.24,152.70 863.07,152.95 865.89,153.20 868.72,153.45 871.54,153.71 874.37,153.96 877.19,154.21 880.02,154.47 882.84,154.73 885.67,154.98 888.49,155.24 891.32,155.50 894.15,155.76 896.97,156.01 899.80,156.27 902.62,156.53 905.45,156.79 908.27,157.05 911.10,157.31 913.92,157.57 916.75,157.83 919.57,158.09 922.40,158.35 925.23,158.61 928.05,158.86 930.88,159.12 933.70,159.38 936.53,159.64 939.35,159.89 942.18,160.15 945.00,160.40 947.83,160.66 950.65,160.91 953.48,161.16 956.30,161.42 959.13,161.67 961.96,161.91 964.78,162.16 967.61,162.41 970.43,162.65 973.26,162.90 976.08,163.14 978.91,163.38 981.73,163.62 984.56,163.85 987.38,164.09 990.21,164.32 993.03,164.55 995.86,164.78 998.69,165.01 1001.51,165.23 1004.34,165.45 1007.16,165.67 1009.99,165.89 1012.81,166.10 1015.64,166.32 1018.46,166.53 1021.29,166.74 1024.11,166.94 1026.94,167.14 1029.77,167.34 1032.59,167.54 1035.42,167.73 1038.24,167.93 1041.07,168.11 1043.89,168.30 1046.72,168.48 1049.54,168.66 1052.37,168.84 1055.19,169.02 1058.02,169.19 1060.85,169.36 1063.67,169.52 1066.50,169.68 1069.32,169.84 1072.15,170.00 1074.97,170.16 1077.80,170.31 1080.62,170.45 1083.45,170.60 1086.27,170.74 1089.10,170.88 1091.92,171.02 1094.75,171.15 1097.58,171.29 1100.40,171.41 1103.23,171.54 1106.05,171.66 1108.88,171.78 1111.70,171.90 1114.53,172.02 1117.35,172.13 1120.18,172.24 1123.00,172.34 1125.83,172.45 1128.65,172.55 1131.48,172.65 1134.31,172.75 1137.13,172.84 1139.96,172.94 1142.78,173.03 1145.61,173.11 1148.43,173.20 1151.26,173.28 1154.08,173.36 1156.91,173.44 1159.73,173.52 1162.56,173.60 1163.26,173.60"/>
<polyline class="cv" stroke="#6464ff" points="822.81,122.56 823.51,122.56 826.34,122.84 829.16,123.12 831.99,123.41 834.81,123.71 837.64,124.01 840.46,124.31 843.29,124.62 846.11,124.94 848.94,125.26 851.76,125.59 854.59,125.92 857.41,126.26 860.24,126.60 863.07,126.95 865.89,127.30 868.72,127.66 871.54,128.02 874.37,128.39 877.19,128.76 880.02,129.14 882.84,129.52 885.67,129.91 888.49,130.30 891.32,130.70 894.15,131.10 896.97,131.50 899.80,131.91 902.62,132.33 905.45,132.75 908.27,133.17 911.10,133.60 913.92,134.03 916.75,134.46 919.57,134.90 922.40,135.34 925.23,135.79 928.05,136.23 930.88,136.69 933.70,137.14 936.53,137.60 939.35,138.06 942.18,138.52 945.00,138.98 947.83,139.45 950.65,139.91 953.48,140.38 956.30,140.86 959.13,141.33 961.96,141.80 964.78,142.27 967.61,142.75 970.43,143.23 973.26,143.70 976.08,144.18 978.91,144.65 981.73,145.13 984.56,145.60 987.38,146.08 990.21,146.55 993.03,147.02 995.86,147.50 998.69,147.97 1001.51,148.43 1004.34,148.90 1007.16,149.37 1009.99,149.83 1012.81,150.29 1015.64,150.75 1018.46,151.20 1021.29,151.65 1024.11,152.10 1026.94,152.55 1029.77,152.99 1032.59,153.43 1035.42,153.86 1038.24,154.29 1041.07,154.72 1043.89,155.14 1046.72,155.56 1049.54,155.98 1052.37,156.39 1055.19,156.79 1058.02,157.20 1060.85,157.59 1063.67,157.98 1066.50,158.37 1069.32,158.75 1072.15,159.13 1074.97,159.50 1077.80,159.87 1080.62,160.23 1083.45,160.58 1086.27,160.93 1089.10,161.28 1091.92,161.62 1094.75,161.95 1097.58,162.28 1100.40,162.61 1103.23,162.92 1106.05,163.24 1108.88,163.54 1111.70,163.84 1114.53,164.14 1117.35,164.43 1120.18,164.72 1123.00,165.00 1125.83,165.27 1128.65,165.54 1131.48,165.80 1134.31,166.06 1137.13,166.32 1139.96,166.57 1142.78,166.81 1145.61,167.05 1148.43,167.28 1151.26,167.51 1154.08,167.73 1156.91,167.95 1159.73,168.16 1162.56,168.37 1163.26,168.37"/>
<polyline class="cv" stroke="#5cffff" points="822.81,156.78 823.51,156.78 826.34,156.25 829.16,155.71 831.99,155.16 834.81,154.59 837.64,154.02 840.46,153.43 843.29,152.82 846.11,152.21 848.94,151.58 851.76,150.94 854.59,150.29 857.41,149.62 860.24,148.94 863.07,148.25 865.89,147.54 868.72,146.82 871.54,146.09 874.37,145.34 877.19,144.58 880.02,143.81 882.84,143.02 885.67,142.22 888.49,141.41 891.32,140.58 894.15,139.74 896.97,138.89 899.80,138.02 902.62,137.15 905.45,136.25 908.27,135.35 911.10,134.43 913.92,133.50 916.75,132.56 919.57,131.60 922.40,130.64 925.23,129.66 928.05,128.67 930.88,127.67 933.70,126.65 936.53,125.63 939.35,124.60 942.18,123.55 945.00,122.50 947.83,121.44 950.65,120.36 953.48,119.28 956.30,118.19 959.13,117.09 961.96,115.99 964.78,114.88 967.61,113.76 970.43,112.63 973.26,111.50 976.08,110.36 978.91,109.21 981.73,108.07 984.56,106.91 987.38,105.76 990.21,104.59 993.03,103.43 995.86,102.27 998.69,101.10 1001.51,99.93 1004.34,98.76 1007.16,97.59 1009.99,96.41 1012.81,95.24 1015.64,94.07 1018.46,92.90 1021.29,91.74 1024.11,90.57 1026.94,89.41 1029.77,88.25 1032.59,87.09 1035.42,85.94 1038.24,84.79 1041.07,83.65 1043.89,82.51 1046.72,81.37 1049.54,80.25 1052.37,79.13 1055.19,78.01 1058.02,76.91 1060.85,75.81 1063.67,74.71 1066.50,73.63 1069.32,72.55 1072.15,71.49 1074.97,70.43 1077.80,69.38 1080.62,68.34 1083.45,67.31 1086.27,66.29 1089.10,65.28 1091.92,64.28 1094.75,63.29 1097.58,62.31 1100.40,61.34 1103.23,60.38 1106.05,59.44 1108.88,58.50 1111.70,57.58 1114.53,56.67 1117.35,55.77 1120.18,54.88 1123.00,54.00 1125.83,53.14 1128.65,52.28 1131.48,51.44 1134.31,50.61 1137.13,49.80 1139.96,48.99 1142.78,48.20 1145.61,47.41 1148.43,46.64 1151.26,45.88 1154.08,45.14 1156.91,44.40 1159.73,43.68 1162.56,42.97 1163.26,42.97"/>
<polyline class="cv" stroke="#cbcb2d" points="822.81,152.79 823.51,152.79 826.34,152.57 829.16,152.34 831.99,152.12 834.81,151.90 837.64,151.69 840.46,151.47 843.29,151.25 846.11,151.04 848.94,150.83 851.76,150.62 854.59,150.41 857.41,150.20 860.24,150.00 863.07,149.80 865.89,149.60 868.72,149.40 871.54,149.21 874.37,149.02 877.19,148.83 880.02,148.65 882.84,148.46 885.67,148.29 888.49,148.11 891.32,147.94 894.15,147.78 896.97,147.62 899.80,147.46 902.62,147.31 905.45,147.16 908.27,147.02 911.10,146.88 913.92,146.75 916.75,146.62 919.57,146.49 922.40,146.38 925.23,146.26 928.05,146.16 930.88,146.06 933.70,145.96 936.53,145.87 939.35,145.79 942.18,145.71 945.00,145.64 947.83,145.58 950.65,145.52 953.48,145.47 956.30,145.42 959.13,145.39 961.96,145.35 964.78,145.33 967.61,145.31 970.43,145.30 973.26,145.29 976.08,145.30 978.91,145.31 981.73,145.32 984.56,145.34 987.38,145.37 990.21,145.41 993.03,145.45 995.86,145.50 998.69,145.56 1001.51,145.62 1004.34,145.69 1007.16,145.77 1009.99,145.85 1012.81,145.94 1015.64,146.03 1018.46,146.13 1021.29,146.24 1024.11,146.36 1026.94,146.47 1029.77,146.60 1032.59,146.73 1035.42,146.87 1038.24,147.01 1041.07,147.16 1043.89,147.31 1046.72,147.47 1049.54,147.63 1052.37,147.80 1055.19,147.97 1058.02,148.15 1060.85,148.33 1063.67,148.51 1066.50,148.70 1069.32,148.90 1072.15,149.09 1074.97,149.29 1077.80,149.50 1080.62,149.71 1083.45,149.92 1086.27,150.13 1089.10,150.35 1091.92,150.57 1094.75,150.79 1097.58,151.01 1100.40,151.24 1103.23,151.46 1106.05,151.69 1108.88,151.93 1111.70,152.16 1114.53,152.39 1117.35,152.63 1120.18,152.87 1123.00,153.11 1125.83,153.34 1128.65,153.58 1131.48,153.82 1134.31,154.07 1137.13,154.31 1139.96,154.55 1142.78,154.79 1145.61,155.03 1148.43,155.27 1151.26,155.51 1154.08,155.76 1156.91,156.00 1159.73,156.24 1162.56,156.48 1163.26,156.48"/>
</g>
<g>
<rect class="ax" x="823.51" y="218.45" width="339.05" height="169.55"/>
<path class="ax" d="M823.51 354.09h5.8M823.51 320.18h5.8M823.51 286.27h5.8M823.51 252.36h5.8M823.51 388.00v5.9M880.02 388.00v5.9M936.53 388.00v5.9M993.03 388.00v5.9M1049.54 388.00v5.9M1106.05 388.00v5.9M1162.56 388.00v5.9"/>
<text x="816.71" y="394.80" text-anchor="end">0.0</text>
<text x="816.71" y="360.89" text-anchor="end">0.2</text>
<text x="816.71" y="326.98" text-anchor="end">0.4</text>
<text x="816.71" y="293.07" text-anchor="end">0.6</text>
<text x="816.71" y="259.16" text-anchor="end">0.8</text>
<text x="816.71" y="225.25" text-anchor="end">1.0</text>
<text x="823.51" y="411.50" text-anchor="middle">−3</text>
<text x="880.02" y="411.50" text-anchor="middle">−2</text>
<text x="936.53" y="411.50" text-anchor="middle">−1</text>
<text x="993.03" y="411.50" text-anchor="middle">0</text>
<text x="1049.54" y="411.50" text-anchor="middle">1</text>
<text x="1106.05" y="411.50" text-anchor="middle">2</text>
<text x="1162.56" y="411.50" text-anchor="middle">3</text>
<text x="836.51" y="243.35">Item 17</text>
<polyline class="cv" stroke="#ff6464" points="822.81,332.07 823.51,332.07 826.34,334.74 829.16,337.37 831.99,339.94 834.81,342.45 837.64,344.91 840.46,347.30 843.29,349.62 846.11,351.87 848.94,354.05 851.76,356.15 854.59,358.18 857.41,360.12 860.24,361.99 863.07,363.78 865.89,365.49 868.72,367.12 871.54,368.66 874.37,370.13 877.19,371.53 880.02,372.84 882.84,374.08 885.67,375.24 888.49,376.33 891.32,377.35 894.15,378.31 896.97,379.19 899.80,380.02 902.62,380.78 905.45,381.48 908.27,382.13 911.10,382.73 913.92,383.27 916.75,383.77 919.57,384.22 922.40,384.63 925.23,385.01 928.05,385.34 930.88,385.65 933.70,385.92 936.53,386.17 939.35,386.39 942.18,386.58 945.00,386.75 947.83,386.91 950.65,387.05 953.48,387.17 956.30,387.27 959.13,387.37 961.96,387.45 964.78,387.52 967.61,387.59 970.43,387.64 973.26,387.69 976.08,387.73 978.91,387.77 981.73,387.80 984.56,387.83 987.38,387.85 990.21,387.87 993.03,387.89 995.86,387.91 998.69,387.92 1001.51,387.93 1004.34,387.94 1007.16,387.95 1009.99,387.96 1012.81,387.96 1015.64,387.97 1018.46,387.97 1021.29,387.98 1024.11,387.98 1026.94,387.98 1029.77,387.99 1032.59,387.99 1035.42,387.99 1038.24,387.99 1041.07,387.99 1043.89,387.99 1046.72,387.99 1049.54,388.00 1052.37,388.00 1055.19,388.00 1058.02,388.00 1060.85,388.00 1063.67,388.00 1066.50,388.00 1069.32,388.00 1072.15,388.00 1074.97,388.00 1077.80,388.00 1080.62,388.00 1083.45,388.00 1086.27,388.00 1089.10,388.00 1091.92,388.00 1094.75,388.00 1097.58,388.00 1100.40,388.00 1103.23,388.00 1106.05,388.00 1108.88,388.00 1111.70,388.00 1114.53,388.00 1117.35,388.00 1120.18,388.00 1123.00,388.00 1125.83,388.00 1128.65,388.00 1131.48,388.00 1134.31,388.00 1137.13,388.00 1139.96,388.00 1142.78,388.00 1145.61,388.00 1148.43,388.00 1151.26,388.00 1154.08,388.00 1156.91,388.00 1159.73,388.00 1162.56,388.00 1163.26,388.00"/>
<polyline class="cv" stroke="#5aff5a" points="822.81,377.91 823.51,377.91 826.34,377.47 829.16,377.03 831.99,376.58 834.81,376.13 837.64,375.69 840.46,375.25 843.29,374.82 846.11,374.40 848.94,373.99 851.76,373.59 854.59,373.20 857.41,372.84 860.24,372.49 863.07,372.16 865.89,371.86 868.72,371.59 871.54,371.34 874.37,371.12 877.19,370.93 880.02,370.78 882.84,370.66 885.67,370.58 888.49,370.54 891.32,370.53 894.15,370.56 896.97,370.63 899.80,370.73 902.62,370.88 905.45,371.06 908.27,371.27 911.10,371.52 913.92,371.80 916.75,372.10 919.57,372.44 922.40,372.80 925.23,373.18 928.05,373.59 930.88,374.01 933.70,374.44 936.53,374.88 939.35,375.34 942.18,375.80 945.00,376.26 947.83,376.72 950.65,377.19 953.48,377.65 956.30,378.10 959.13,378.55 961.96,378.99 964.78,379.42 967.61,379.84 970.43,380.25 973.26,380.64 976.08,381.02 978.91,381.39 981.73,381.75 984.56,382.09 987.38,382.42 990.21,382.73 993.03,383.03 995.86,383.31 998.69,383.59 1001.51,383.84 1004.34,384.09 1007.16,384.32 1009.99,384.54 1012.81,384.75 1015.64,384.95 1018.46,385.14 1021.29,385.31 1024.11,385.48 1026.94,385.64 1029.77,385.78 1032.59,385.92 1035.42,386.05 1038.24,386.18 1041.07,386.29 1043.89,386.40 1046.72,386.50 1049.54,386.60 1052.37,386.69 1055.19,386.77 1058.02,386.85 1060.85,386.93 1063.67,387.00 1066.50,387.06 1069.32,387.12 1072.15,387.18 1074.97,387.23 1077.80,387.28 1080.62,387.33 1083.45,387.37 1086.27,387.41 1089.10,387.45 1091.92,387.49 1094.75,387.52 1097.58,387.55 1100.40,387.58 1103.23,387.61 1106.05,387.64 1108.88,387.66 1111.70,387.68 1114.53,387.70 1117.35,387.72 1120.18,387.74 1123.00,387.76 1125.83,387.77 1128.65,387.79 1131.48,387.80 1134.31,387.82 1137.13,387.83 1139.96,387.84 1142.78,387.85 1145.61,387.86 1148.43,387.87 1151.26,387.88 1154.08,387.89 1156.91,387.89 1159.73,387.90 1162.56,387.91 1163.26,387.91"/>
<polyline class="cv" stroke="#6464ff" points="822.81,383.23 823.51,383.23 826.34,382.66 829.16,382.04 831.99,381.36 834.81,380.61 837.64,379.79 840.46,378.89 843.29,377.91 846.11,376.84 848.94,375.69 851.76,374.43 854.59,373.08 857.41,371.62 860.24,370.05 863.07,368.37 865.89,366.57 868.72,364.65 871.54,362.61 874.37,360.45 877.19,358.16 880.02,355.75 882.84,353.21 885.67,350.56 888.49,347.79 891.32,344.91 894.15,341.92 896.97,338.83 899.80,335.65 902.62,332.38 905.45,329.04 908.27,325.64 911.10,322.19 913.92,318.69 916.75,315.17 919.57,311.63 922.40,308.08 925.23,304.55 928.05,301.03 930.88,297.55 933.70,294.11 936.53,290.72 939.35,287.40 942.18,284.14 945.00,280.97 947.83,277.87 950.65,274.87 953.48,271.97 956.30,269.16 959.13,266.45 961.96,263.85 964.78,261.36 967.61,258.97 970.43,256.68 973.26,254.50 976.08,252.42 978.91,250.45 981.73,248.57 984.56,246.79 987.38,245.10 990.21,243.50 993.03,241.99 995.86,240.56 998.69,239.21 1001.51,237.94 1004.34,236.75 1007.16,235.62 1009.99,234.56 1012.81,233.56 1015.64,232.62 1018.46,231.74 1021.29,230.91 1024.11,230.13 1026.94,229.40 1029.77,228.72 1032.59,228.07 1035.42,227.47 1038.24,226.91 1041.07,226.38 1043.89,225.88 1046.72,225.42 1049.54,224.98 1052.37,224.57 1055.19,224.19 1058.02,223.83 1060.85,223.49 1063.67,223.18 1066.50,222.88 1069.32,222.61 1072.15,222.35 1074.97,222.10 1077.80,221.88 1080.62,221.66 1083.45,221.46 1086.27,221.28 1089.10,221.10 1091.92,220.94 1094.75,220.78 1097.58,220.64 1100.40,220.50 1103.23,220.38 1106.05,220.26 1108.88,220.15 1111.70,220.04 1114.53,219.94 1117.35,219.85 1120.18,219.77 1123.00,219.69 1125.83,219.61 1128.65,219.54 1131.48,219.47 1134.31,219.41 1137.13,219.35 1139.96,219.30 1142.78,219.24 1145.61,219.20 1148.43,219.15 1151.26,219.11 1154.08,219.07 1156.91,219.03 1159.73,219.00 1162.56,218.96 1163.26,218.96"/>
<polyline class="cv" stroke="#5cffff" points="822.81,304.26 823.51,304.26 826.34,303.40 829.16,302.66 831.99,302.05 834.81,301.57 837.64,301.24 840.46,301.05 843.29,301.00 846.11,301.10 848.94,301.36 851.76,301.76 854.59,302.31 857.41,303.02 860.24,303.88 863.07,304.88 865.89,306.02 868.72,307.31 871.54,308.73 874.37,310.29 877.19,311.96 880.02,313.76 882.84,315.66 885.67,317.66 888.49,319.75 891.32,321.92 894.15,324.16 896.97,326.46 899.80,328.80 902.62,331.19 905.45,333.59 908.27,336.01 911.10,338.43 913.92,340.84 916.75,343.23 919.57,345.59 922.40,347.90 925.23,350.17 928.05,352.39 930.88,354.54 933.70,356.62 936.53,358.63 939.35,360.56 942.18,362.41 945.00,364.17 947.83,365.85 950.65,367.44 953.48,368.95 956.30,370.38 959.13,371.72 961.96,372.97 964.78,374.15 967.61,375.25 970.43,376.28 973.26,377.24 976.08,378.12 978.91,378.95 981.73,379.71 984.56,380.42 987.38,381.07 990.21,381.67 993.03,382.22 995.86,382.72 998.69,383.19 1001.51,383.62 1004.34,384.01 1007.16,384.37 1009.99,384.70 1012.81,385.00 1015.64,385.27 1018.46,385.52 1021.29,385.75 1024.11,385.95 1026.94,386.14 1029.77,386.32 1032.59,386.47 1035.42,386.61 1038.24,386.74 1041.07,386.86 1043.89,386.97 1046.72,387.07 1049.54,387.15 1052.37,387.23 1055.19,387.31 1058.02,387.37 1060.85,387.43 1063.67,387.48 1066.50,387.53 1069.32,387.58 1072.15,387.62 1074.97,387.65 1077.80,387.69 1080.62,387.72 1083.45,387.74 1086.27,387.77 1089.10,387.79 1091.92,387.81 1094.75,387.83 1097.58,387.85 1100.40,387.86 1103.23,387.87 1106.05,387.89 1108.88,387.90 1111.70,387.91 1114.53,387.92 1117.35,387.92 1120.18,387.93 1123.00,387.94 1125.83,387.94 1128.65,387.95 1131.48,387.95 1134.31,387.96 1137.13,387.96 1139.96,387.97 1142.78,387.97 1145.61,387.97 1148.43,387.97 1151.26,387.98 1154.08,387.98 1156.91,387.98 1159.73,387.98 1162.56,387.98 1163.26,387.98"/>
<polyline class="cv" stroke="#cbcb2d" points="822.81,372.98 823.51,372.98 826.34,372.18 829.16,371.36 831.99,370.53 834.81,369.68 837.64,368.83 840.46,367.97 843.29,367.10 846.11,366.24 848.94,365.38 851.76,364.52 854.59,363.68 857.41,362.85 860.24,362.04 863.07,361.26 865.89,360.51 868.72,359.79 871.54,359.10 874.37,358.46 877.19,357.87 880.02,357.32 882.84,356.84 885.67,356.41 888.49,356.04 891.32,355.74 894.15,355.51 896.97,355.34 899.80,355.25 902.62,355.23 905.45,355.28 908.27,355.40 911.10,355.59 913.92,355.85 916.75,356.18 919.57,356.57 922.40,357.03 925.23,357.54 928.05,358.10 930.88,358.71 933.70,359.36 936.53,360.05 939.35,360.77 942.18,361.52 945.00,362.30 947.83,363.09 950.65,363.90 953.48,364.72 956.30,365.54 959.13,366.36 961.96,367.18 964.78,368.00 967.61,368.81 970.43,369.60 973.26,370.38 976.08,371.15 978.91,371.89 981.73,372.62 984.56,373.33 987.38,374.02 990.21,374.68 993.03,375.33 995.86,375.94 998.69,376.54 1001.51,377.11 1004.34,377.67 1007.16,378.19 1009.99,378.70 1012.81,379.18 1015.64,379.64 1018.46,380.08 1021.29,380.50 1024.11,380.91 1026.94,381.29 1029.77,381.65 1032.59,381.99 1035.42,382.32 1038.24,382.63 1041.07,382.93 1043.89,383.21 1046.72,383.47 1049.54,383.72 1052.37,383.96 1055.19,384.19 1058.02,384.40 1060.85,384.60 1063.67,384.80 1066.50,384.98 1069.32,385.15 1072.15,385.31 1074.97,385.46 1077.80,385.61 1080.62,385.74 1083.45,385.87 1086.27,385.99 1089.10,386.11 1091.92,386.21 1094.75,386.32 1097.58,386.41 1100.40,386.50 1103.23,386.59 1106.05,386.67 1108.88,386.75 1111.70,386.82 1114.53,386.89 1117.35,386.95 1120.18,387.01 1123.00,387.07 1125.83,387.12 1128.65,387.17 1131.48,387.22 1134.31,387.27 1137.13,387.31 1139.96,387.35 1142.78,387.39 1145.61,387.42 1148.43,387.45 1151.26,387.49 1154.08,387.52 1156.91,387.54 1159.73,387.57 1162.56,387.60 1163.26,387.60"/>
</g>
<g>
<rect class="ax" x="823.51" y="430.45" width="339.05" height="169.55"/>
<path class="ax" d="M823.51 566.09h5.8M823.51 532.18h5.8M823.51 498.27h5.8M823.51 464.36h5.8M823.51 600.00v5.9M880.02 600.00v5.9M936.53 600.00v5.9M993.03 600.00v5.9M1049.54 600.00v5.9M1106.05 600.00v5.9M1162.56 600.00v5.9"/>
<text x="816.71" y="606.80" text-anchor="end">0.0</text>
<text x="816.71" y="572.89" text-anchor="end">0.2</text>
<text x="816.71" y="538.98" text-anchor="end">0.4</text>
<text x="816.71" y="505.07" text-anchor="end">0.6</text>
<text x="816.71" y="471.16" text-anchor="end">0.8</text>
<text x="816.71" y="437.25" text-anchor="end">1.0</text>
<text x="823.51" y="623.50" text-anchor="middle">−3</text>
<text x="880.02" y="623.50" text-anchor="middle">−2</text>
<text x="936.53" y="623.50" text-anchor="middle">−1</text>
<text x="993.03" y="623.50" text-anchor="middle">0</text>
<text x="1049.54" y="623.50" text-anchor="middle">1</text>
<text x="1106.05" y="623.50" text-anchor="middle">2</text>
<text x="1162.56" y="623.50" text-anchor="middle">3</text>
<text x="836.51" y="455.35">Item 26</text>
<polyline class="cv" stroke="#ff6464" points="822.81,576.30 823.51,576.30 826.34,575.89 829.16,575.47 831.99,575.06 834.81,574.65 837.64,574.25 840.46,573.85 843.29,573.46 846.11,573.08 848.94,572.70 851.76,572.33 854.59,571.96 857.41,571.61 860.24,571.27 863.07,570.93 865.89,570.61 868.72,570.30 871.54,570.00 874.37,569.72 877.19,569.45 880.02,569.19 882.84,568.95 885.67,568.72 888.49,568.51 891.32,568.32 894.15,568.14 896.97,567.98 899.80,567.84 902.62,567.72 905.45,567.61 908.27,567.52 911.10,567.46 913.92,567.41 916.75,567.38 919.57,567.37 922.40,567.39 925.23,567.42 928.05,567.47 930.88,567.54 933.70,567.62 936.53,567.73 939.35,567.86 942.18,568.00 945.00,568.16 947.83,568.34 950.65,568.54 953.48,568.76 956.30,568.99 959.13,569.23 961.96,569.49 964.78,569.77 967.61,570.06 970.43,570.36 973.26,570.68 976.08,571.00 978.91,571.34 981.73,571.69 984.56,572.05 987.38,572.42 990.21,572.79 993.03,573.18 995.86,573.57 998.69,573.96 1001.51,574.37 1004.34,574.77 1007.16,575.18 1009.99,575.60 1012.81,576.02 1015.64,576.44 1018.46,576.86 1021.29,577.28 1024.11,577.70 1026.94,578.13 1029.77,578.55 1032.59,578.97 1035.42,579.39 1038.24,579.81 1041.07,580.23 1043.89,580.64 1046.72,581.06 1049.54,581.46 1052.37,581.87 1055.19,582.27 1058.02,582.66 1060.85,583.06 1063.67,583.44 1066.50,583.83 1069.32,584.20 1072.15,584.58 1074.97,584.94 1077.80,585.30 1080.62,585.66 1083.45,586.01 1086.27,586.35 1089.10,586.69 1091.92,587.02 1094.75,587.35 1097.58,587.67 1100.40,587.98 1103.23,588.29 1106.05,588.59 1108.88,588.89 1111.70,589.18 1114.53,589.46 1117.35,589.74 1120.18,590.01 1123.00,590.27 1125.83,590.53 1128.65,590.79 1131.48,591.03 1134.31,591.28 1137.13,591.51 1139.96,591.74 1142.78,591.97 1145.61,592.19 1148.43,592.41 1151.26,592.61 1154.08,592.82 1156.91,593.02 1159.73,593.21 1162.56,593.40 1163.26,593.40"/>
<polyline class="cv" stroke="#5aff5a" points="822.81,585.34 823.51,585.34 826.34,584.62 829.16,583.87 831.99,583.09 834.81,582.28 837.64,581.44 840.46,580.57 843.29,579.67 846.11,578.73 848.94,577.77 851.76,576.76 854.59,575.73 857.41,574.66 860.24,573.56 863.07,572.43 865.89,571.26 868.72,570.05 871.54,568.81 874.37,567.54 877.19,566.24 880.02,564.90 882.84,563.52 885.67,562.12 888.49,560.68 891.32,559.21 894.15,557.72 896.97,556.19 899.80,554.63 902.62,553.04 905.45,551.43 908.27,549.79 911.10,548.13 913.92,546.45 916.75,544.74 919.57,543.01 922.40,541.26 925.23,539.50 928.05,537.72 930.88,535.93 933.70,534.12 936.53,532.30 939.35,530.48 942.18,528.65 945.00,526.81 947.83,524.97 950.65,523.12 953.48,521.28 956.30,519.44 959.13,517.60 961.96,515.77 964.78,513.94 967.61,512.12 970.43,510.32 973.26,508.52 976.08,506.74 978.91,504.97 981.73,503.21 984.56,501.48 987.38,499.76 990.21,498.06 993.03,496.38 995.86,494.72 998.69,493.09 1001.51,491.48 1004.34,489.89 1007.16,488.33 1009.99,486.79 1012.81,485.28 1015.64,483.80 1018.46,482.34 1021.29,480.91 1024.11,479.51 1026.94,478.13 1029.77,476.78 1032.59,475.47 1035.42,474.18 1038.24,472.91 1041.07,471.68 1043.89,470.48 1046.72,469.30 1049.54,468.15 1052.37,467.03 1055.19,465.93 1058.02,464.87 1060.85,463.83 1063.67,462.82 1066.50,461.83 1069.32,460.87 1072.15,459.93 1074.97,459.02 1077.80,458.14 1080.62,457.28 1083.45,456.44 1086.27,455.63 1089.10,454.84 1091.92,454.07 1094.75,453.33 1097.58,452.61 1100.40,451.90 1103.23,451.22 1106.05,450.56 1108.88,449.92 1111.70,449.30 1114.53,448.69 1117.35,448.11 1120.18,447.54 1123.00,446.99 1125.83,446.46 1128.65,445.94 1131.48,445.44 1134.31,444.96 1137.13,444.49 1139.96,444.03 1142.78,443.59 1145.61,443.17 1148.43,442.75 1151.26,442.35 1154.08,441.97 1156.91,441.59 1159.73,441.23 1162.56,440.88 1163.26,440.88"/>
<polyline class="cv" stroke="#6464ff" points="822.81,574.56 823.51,574.56 826.34,574.59 829.16,574.63 831.99,574.68 834.81,574.74 837.64,574.81 840.46,574.89 843.29,574.98 846.11,575.09 848.94,575.20 851.76,575.33 854.59,575.47 857.41,575.61 860.24,575.77 863.07,575.94 865.89,576.13 868.72,576.32 871.54,576.52 874.37,576.73 877.19,576.96 880.02,577.19 882.84,577.44 885.67,577.69 888.49,577.95 891.32,578.23 894.15,578.51 896.97,578.80 899.80,579.10 902.62,579.40 905.45,579.72 908.27,580.04 911.10,580.37 913.92,580.70 916.75,581.04 919.57,581.38 922.40,581.73 925.23,582.09 928.05,582.44 930.88,582.80 933.70,583.17 936.53,583.53 939.35,583.90 942.18,584.26 945.00,584.63 947.83,585.00 950.65,585.37 953.48,585.74 956.30,586.10 959.13,586.47 961.96,586.83 964.78,587.19 967.61,587.54 970.43,587.90 973.26,588.25 976.08,588.59 978.91,588.93 981.73,589.27 984.56,589.60 987.38,589.93 990.21,590.25 993.03,590.56 995.86,590.87 998.69,591.17 1001.51,591.47 1004.34,591.76 1007.16,592.04 1009.99,592.32 1012.81,592.59 1015.64,592.85 1018.46,593.11 1021.29,593.36 1024.11,593.60 1026.94,593.84 1029.77,594.07 1032.59,594.30 1035.42,594.51 1038.24,594.72 1041.07,594.93 1043.89,595.13 1046.72,595.32 1049.54,595.50 1052.37,595.68 1055.19,595.85 1058.02,596.02 1060.85,596.18 1063.67,596.34 1066.50,596.49 1069.32,596.63 1072.15,596.77 1074.97,596.91 1077.80,597.04 1080.62,597.16 1083.45,597.28 1086.27,597.40 1089.10,597.51 1091.92,597.62 1094.75,597.72 1097.58,597.82 1100.40,597.91 1103.23,598.00 1106.05,598.09 1108.88,598.17 1111.70,598.26 1114.53,598.33 1117.35,598.41 1120.18,598.48 1123.00,598.54 1125.83,598.61 1128.65,598.67 1131.48,598.73 1134.31,598.79 1137.13,598.84 1139.96,598.89 1142.78,598.94 1145.61,598.99 1148.43,599.04 1151.26,599.08 1154.08,599.12 1156.91,599.16 1159.73,599.20 1162.56,599.24 1163.26,599.24"/>
<polyline class="cv" stroke="#5cffff" points="822.81,523.35 823.51,523.35 826.34,524.70 829.16,526.06 831.99,527.43 834.81,528.80 837.64,530.18 840.46,531.56 843.29,532.94 846.11,534.33 848.94,535.71 851.76,537.10 854.59,538.48 857.41,539.87 860.24,541.25 863.07,542.63 865.89,544.00 868.72,545.38 871.54,546.74 874.37,548.10 877.19,549.45 880.02,550.79 882.84,552.13 885.67,553.45 888.49,554.76 891.32,556.06 894.15,557.35 896.97,558.62 899.80,559.88 902.62,561.12 905.45,562.35 908.27,563.56 911.10,564.75 913.92,565.92 916.75,567.08 919.57,568.21 922.40,569.32 925.23,570.41 928.05,571.48 930.88,572.53 933.70,573.56 936.53,574.56 939.35,575.54 942.18,576.49 945.00,577.42 947.83,578.33 950.65,579.21 953.48,580.07 956.30,580.90 959.13,581.71 961.96,582.49 964.78,583.25 967.61,583.99 970.43,584.70 973.26,585.39 976.08,586.05 978.91,586.69 981.73,587.31 984.56,587.90 987.38,588.48 990.21,589.03 993.03,589.56 995.86,590.07 998.69,590.56 1001.51,591.02 1004.34,591.47 1007.16,591.90 1009.99,592.31 1012.81,592.71 1015.64,593.08 1018.46,593.44 1021.29,593.79 1024.11,594.11 1026.94,594.43 1029.77,594.72 1032.59,595.01 1035.42,595.28 1038.24,595.53 1041.07,595.78 1043.89,596.01 1046.72,596.23 1049.54,596.44 1052.37,596.64 1055.19,596.82 1058.02,597.00 1060.85,597.17 1063.67,597.33 1066.50,597.48 1069.32,597.63 1072.15,597.76 1074.97,597.89 1077.80,598.02 1080.62,598.13 1083.45,598.24 1086.27,598.34 1089.10,598.44 1091.92,598.53 1094.75,598.62 1097.58,598.70 1100.40,598.78 1103.23,598.85 1106.05,598.92 1108.88,598.98 1111.70,599.04 1114.53,599.10 1117.35,599.15 1120.18,599.21 1123.00,599.25 1125.83,599.30 1128.65,599.34 1131.48,599.38 1134.31,599.42 1137.13,599.45 1139.96,599.49 1142.78,599.52 1145.61,599.55 1148.43,599.58 1151.26,599.60 1154.08,599.63 1156.91,599.65 1159.73,599.67 1162.56,599.69 1163.26,599.69"/>
<polyline class="cv" stroke="#cbcb2d" points="822.81,570.90 823.51,570.90 826.34,570.65 829.16,570.42 831.99,570.19 834.81,569.97 837.64,569.77 840.46,569.57 843.29,569.39 846.11,569.23 848.94,569.07 851.76,568.93 854.59,568.81 857.41,568.70 860.24,568.60 863.07,568.52 865.89,568.45 868.72,568.41 871.54,568.37 874.37,568.36 877.19,568.36 880.02,568.38 882.84,568.42 885.67,568.47 888.49,568.54 891.32,568.63 894.15,568.74 896.97,568.86 899.80,569.00 902.62,569.16 905.45,569.34 908.27,569.53 911.10,569.74 913.92,569.97 916.75,570.21 919.57,570.47 922.40,570.75 925.23,571.03 928.05,571.34 930.88,571.65 933.70,571.98 936.53,572.33 939.35,572.68 942.18,573.05 945.00,573.42 947.83,573.81 950.65,574.20 953.48,574.61 956.30,575.02 959.13,575.44 961.96,575.87 964.78,576.30 967.61,576.74 970.43,577.18 973.26,577.62 976.08,578.07 978.91,578.52 981.73,578.97 984.56,579.42 987.38,579.87 990.21,580.32 993.03,580.77 995.86,581.22 998.69,581.67 1001.51,582.12 1004.34,582.56 1007.16,582.99 1009.99,583.43 1012.81,583.86 1015.64,584.28 1018.46,584.70 1021.29,585.11 1024.11,585.52 1026.94,585.92 1029.77,586.32 1032.59,586.71 1035.42,587.09 1038.24,587.47 1041.07,587.84 1043.89,588.20 1046.72,588.55 1049.54,588.90 1052.37,589.24 1055.19,589.57 1058.02,589.89 1060.85,590.21 1063.67,590.52 1066.50,590.82 1069.32,591.11 1072.15,591.40 1074.97,591.68 1077.80,591.95 1080.62,592.22 1083.45,592.48 1086.27,592.73 1089.10,592.97 1091.92,593.21 1094.75,593.44 1097.58,593.66 1100.40,593.88 1103.23,594.09 1106.05,594.29 1108.88,594.49 1111.70,594.68 1114.53,594.86 1117.35,595.04 1120.18,595.22 1123.00,595.39 1125.83,595.55 1128.65,595.71 1131.48,595.86 1134.31,596.01 1137.13,596.15 1139.96,596.29 1142.78,596.42 1145.61,596.55 1148.43,596.68 1151.26,596.80 1154.08,596.91 1156.91,597.03 1159.73,597.14 1162.56,597.24 1163.26,597.24"/>
</g>
<g>
<rect class="ax" x="823.51" y="642.45" width="339.05" height="169.55"/>
<path class="ax" d="M823.51 778.09h5.8M823.51 744.18h5.8M823.51 710.27h5.8M823.51 676.36h5.8M823.51 812.00v5.9M880.02 812.00v5.9M936.53 812.00v5.9M993.03 812.00v5.9M1049.54 812.00v5.9M1106.05 812.00v5.9M1162.56 812.00v5.9"/>
<text x="816.71" y="818.80" text-anchor="end">0.0</text>
<text x="816.71" y="784.89" text-anchor="end">0.2</text>
<text x="816.71" y="750.98" text-anchor="end">0.4</text>
<text x="816.71" y="717.07" text-anchor="end">0.6</text>
<text x="816.71" y="683.16" text-anchor="end">0.8</text>
<text x="816.71" y="649.25" text-anchor="end">1.0</text>
<text x="823.51" y="835.50" text-anchor="middle">−3</text>
<text x="880.02" y="835.50" text-anchor="middle">−2</text>
<text x="936.53" y="835.50" text-anchor="middle">−1</text>
<text x="993.03" y="835.50" text-anchor="middle">0</text>
<text x="1049.54" y="835.50" text-anchor="middle">1</text>
<text x="1106.05" y="835.50" text-anchor="middle">2</text>
<text x="1162.56" y="835.50" text-anchor="middle">3</text>
<text x="836.51" y="667.35">Item 33</text>
<text x="998.33" y="867.00" text-anchor="middle">Ability, θ</text>
<polyline class="cv" stroke="#ff6464" points="822.81,776.56 823.51,776.56 826.34,776.35 829.16,776.14 831.99,775.94 834.81,775.75 837.64,775.56 840.46,775.39 843.29,775.21 846.11,775.05 848.94,774.89 851.76,774.74 854.59,774.60 857.41,774.46 860.24,774.33 863.07,774.21 865.89,774.10 868.72,773.99 871.54,773.90 874.37,773.81 877.19,773.73 880.02,773.65 882.84,773.59 885.67,773.53 888.49,773.48 891.32,773.44 894.15,773.40 896.97,773.38 899.80,773.36 902.62,773.35 905.45,773.34 908.27,773.35 911.10,773.36 913.92,773.38 916.75,773.40 919.57,773.44 922.40,773.48 925.23,773.53 928.05,773.58 930.88,773.65 933.70,773.72 936.53,773.79 939.35,773.88 942.18,773.97 945.00,774.06 947.83,774.16 950.65,774.27 953.48,774.39 956.30,774.51 959.13,774.63 961.96,774.76 964.78,774.90 967.61,775.04 970.43,775.19 973.26,775.34 976.08,775.50 978.91,775.66 981.73,775.83 984.56,776.00 987.38,776.18 990.21,776.36 993.03,776.54 995.86,776.73 998.69,776.92 1001.51,777.12 1004.34,777.32 1007.16,777.52 1009.99,777.73 1012.81,777.94 1015.64,778.15 1018.46,778.36 1021.29,778.58 1024.11,778.80 1026.94,779.02 1029.77,779.25 1032.59,779.47 1035.42,779.70 1038.24,779.93 1041.07,780.16 1043.89,780.40 1046.72,780.63 1049.54,780.87 1052.37,781.11 1055.19,781.35 1058.02,781.59 1060.85,781.83 1063.67,782.07 1066.50,782.31 1069.32,782.56 1072.15,782.80 1074.97,783.05 1077.80,783.29 1080.62,783.54 1083.45,783.79 1086.27,784.03 1089.10,784.28 1091.92,784.52 1094.75,784.77 1097.58,785.02 1100.40,785.26 1103.23,785.51 1106.05,785.75 1108.88,786.00 1111.70,786.24 1114.53,786.49 1117.35,786.73 1120.18,786.97 1123.00,787.22 1125.83,787.46 1128.65,787.70 1131.48,787.94 1134.31,788.18 1137.13,788.41 1139.96,788.65 1142.78,788.89 1145.61,789.12 1148.43,789.35 1151.26,789.59 1154.08,789.82 1156.91,790.05 1159.73,790.28 1162.56,790.50 1163.26,790.50"/>
<polyline class="cv" stroke="#5aff5a" points="822.81,792.12 823.51,792.12 826.34,791.69 829.16,791.25 831.99,790.80 834.81,790.35 837.64,789.90 840.46,789.44 843.29,788.97 846.11,788.50 848.94,788.03 851.76,787.55 854.59,787.07 857.41,786.59 860.24,786.10 863.07,785.61 865.89,785.11 868.72,784.61 871.54,784.11 874.37,783.60 877.19,783.09 880.02,782.58 882.84,782.06 885.67,781.54 888.49,781.02 891.32,780.50 894.15,779.97 896.97,779.44 899.80,778.91 902.62,778.38 905.45,777.85 908.27,777.31 911.10,776.77 913.92,776.24 916.75,775.70 919.57,775.16 922.40,774.62 925.23,774.07 928.05,773.53 930.88,772.99 933.70,772.44 936.53,771.90 939.35,771.35 942.18,770.81 945.00,770.26 947.83,769.72 950.65,769.17 953.48,768.63 956.30,768.09 959.13,767.54 961.96,767.00 964.78,766.46 967.61,765.92 970.43,765.38 973.26,764.84 976.08,764.30 978.91,763.76 981.73,763.23 984.56,762.69 987.38,762.16 990.21,761.62 993.03,761.09 995.86,760.56 998.69,760.04 1001.51,759.51 1004.34,758.99 1007.16,758.46 1009.99,757.94 1012.81,757.42 1015.64,756.91 1018.46,756.39 1021.29,755.88 1024.11,755.37 1026.94,754.86 1029.77,754.35 1032.59,753.85 1035.42,753.34 1038.24,752.84 1041.07,752.34 1043.89,751.85 1046.72,751.35 1049.54,750.86 1052.37,750.37 1055.19,749.88 1058.02,749.40 1060.85,748.91 1063.67,748.43 1066.50,747.95 1069.32,747.48 1072.15,747.00 1074.97,746.53 1077.80,746.06 1080.62,745.59 1083.45,745.13 1086.27,744.67 1089.10,744.21 1091.92,743.75 1094.75,743.29 1097.58,742.84 1100.40,742.39 1103.23,741.94 1106.05,741.49 1108.88,741.05 1111.70,740.60 1114.53,740.16 1117.35,739.72 1120.18,739.29 1123.00,738.86 1125.83,738.42 1128.65,737.99 1131.48,737.57 1134.31,737.14 1137.13,736.72 1139.96,736.30 1142.78,735.88 1145.61,735.46 1148.43,735.05 1151.26,734.64 1154.08,734.23 1156.91,733.82 1159.73,733.41 1162.56,733.01 1163.26,733.01"/>
<polyline class="cv" stroke="#6464ff" points="822.81,738.80 823.51,738.80 826.34,739.93 829.16,741.05 831.99,742.17 834.81,743.29 837.64,744.41 840.46,745.52 843.29,746.62 846.11,747.73 848.94,748.82 851.76,749.92 854.59,751.00 857.41,752.08 860.24,753.16 863.07,754.22 865.89,755.28 868.72,756.34 871.54,757.38 874.37,758.42 877.19,759.44 880.02,760.46 882.84,761.47 885.67,762.47 888.49,763.46 891.32,764.44 894.15,765.41 896.97,766.37 899.80,767.32 902.62,768.26 905.45,769.18 908.27,770.10 911.10,771.00 913.92,771.89 916.75,772.77 919.57,773.64 922.40,774.50 925.23,775.34 928.05,776.17 930.88,776.99 933.70,777.80 936.53,778.59 939.35,779.37 942.18,780.14 945.00,780.90 947.83,781.64 950.65,782.37 953.48,783.09 956.30,783.79 959.13,784.49 961.96,785.17 964.78,785.83 967.61,786.49 970.43,787.13 973.26,787.76 976.08,788.38 978.91,788.98 981.73,789.58 984.56,790.16 987.38,790.73 990.21,791.28 993.03,791.83 995.86,792.36 998.69,792.88 1001.51,793.39 1004.34,793.89 1007.16,794.38 1009.99,794.86 1012.81,795.33 1015.64,795.78 1018.46,796.23 1021.29,796.66 1024.11,797.09 1026.94,797.50 1029.77,797.91 1032.59,798.30 1035.42,798.69 1038.24,799.06 1041.07,799.43 1043.89,799.79 1046.72,800.14 1049.54,800.48 1052.37,800.81 1055.19,801.13 1058.02,801.45 1060.85,801.75 1063.67,802.05 1066.50,802.34 1069.32,802.62 1072.15,802.90 1074.97,803.17 1077.80,803.43 1080.62,803.68 1083.45,803.93 1086.27,804.17 1089.10,804.40 1091.92,804.63 1094.75,804.85 1097.58,805.07 1100.40,805.28 1103.23,805.48 1106.05,805.68 1108.88,805.87 1111.70,806.06 1114.53,806.24 1117.35,806.42 1120.18,806.59 1123.00,806.75 1125.83,806.91 1128.65,807.07 1131.48,807.22 1134.31,807.37 1137.13,807.52 1139.96,807.65 1142.78,807.79 1145.61,807.92 1148.43,808.05 1151.26,808.17 1154.08,808.29 1156.91,808.41 1159.73,808.52 1162.56,808.63 1163.26,808.63"/>
<polyline class="cv" stroke="#5cffff" points="822.81,802.07 823.51,802.07 826.34,802.09 829.16,802.12 831.99,802.15 834.81,802.19 837.64,802.22 840.46,802.26 843.29,802.30 846.11,802.34 848.94,802.38 851.76,802.43 854.59,802.47 857.41,802.52 860.24,802.57 863.07,802.62 865.89,802.68 868.72,802.73 871.54,802.79 874.37,802.85 877.19,802.91 880.02,802.97 882.84,803.03 885.67,803.10 888.49,803.16 891.32,803.23 894.15,803.30 896.97,803.37 899.80,803.44 902.62,803.51 905.45,803.59 908.27,803.66 911.10,803.73 913.92,803.81 916.75,803.89 919.57,803.96 922.40,804.04 925.23,804.12 928.05,804.20 930.88,804.28 933.70,804.36 936.53,804.44 939.35,804.53 942.18,804.61 945.00,804.69 947.83,804.77 950.65,804.86 953.48,804.94 956.30,805.02 959.13,805.11 961.96,805.19 964.78,805.28 967.61,805.36 970.43,805.44 973.26,805.53 976.08,805.61 978.91,805.70 981.73,805.78 984.56,805.86 987.38,805.95 990.21,806.03 993.03,806.11 995.86,806.19 998.69,806.27 1001.51,806.36 1004.34,806.44 1007.16,806.52 1009.99,806.60 1012.81,806.68 1015.64,806.76 1018.46,806.83 1021.29,806.91 1024.11,806.99 1026.94,807.07 1029.77,807.14 1032.59,807.22 1035.42,807.29 1038.24,807.37 1041.07,807.44 1043.89,807.51 1046.72,807.59 1049.54,807.66 1052.37,807.73 1055.19,807.80 1058.02,807.87 1060.85,807.94 1063.67,808.00 1066.50,808.07 1069.32,808.14 1072.15,808.20 1074.97,808.27 1077.80,808.33 1080.62,808.39 1083.45,808.46 1086.27,808.52 1089.10,808.58 1091.92,808.64 1094.75,808.70 1097.58,808.75 1100.40,808.81 1103.23,808.87 1106.05,808.92 1108.88,808.98 1111.70,809.03 1114.53,809.09 1117.35,809.14 1120.18,809.19 1123.00,809.24 1125.83,809.29 1128.65,809.34 1131.48,809.39 1134.31,809.44 1137.13,809.49 1139.96,809.54 1142.78,809.58 1145.61,809.63 1148.43,809.67 1151.26,809.72 1154.08,809.76 1156.91,809.80 1159.73,809.84 1162.56,809.88 1163.26,809.88"/>
<polyline class="cv" stroke="#cbcb2d" points="822.81,780.90 823.51,780.90 826.34,780.39 829.16,779.89 831.99,779.38 834.81,778.87 837.64,778.36 840.46,777.85 843.29,777.34 846.11,776.83 848.94,776.32 851.76,775.81 854.59,775.30 857.41,774.80 860.24,774.29 863.07,773.78 865.89,773.28 868.72,772.78 871.54,772.28 874.37,771.78 877.19,771.28 880.02,770.79 882.84,770.30 885.67,769.81 888.49,769.33 891.32,768.84 894.15,768.37 896.97,767.89 899.80,767.42 902.62,766.95 905.45,766.49 908.27,766.03 911.10,765.58 913.92,765.13 916.75,764.69 919.57,764.25 922.40,763.81 925.23,763.39 928.05,762.96 930.88,762.54 933.70,762.13 936.53,761.72 939.35,761.32 942.18,760.93 945.00,760.54 947.83,760.15 950.65,759.78 953.48,759.41 956.30,759.04 959.13,758.68 961.96,758.33 964.78,757.98 967.61,757.64 970.43,757.31 973.26,756.98 976.08,756.66 978.91,756.35 981.73,756.04 984.56,755.74 987.38,755.44 990.21,755.15 993.03,754.87 995.86,754.60 998.69,754.33 1001.51,754.07 1004.34,753.81 1007.16,753.56 1009.99,753.32 1012.81,753.09 1015.64,752.86 1018.46,752.63 1021.29,752.42 1024.11,752.21 1026.94,752.00 1029.77,751.80 1032.59,751.61 1035.42,751.42 1038.24,751.25 1041.07,751.07 1043.89,750.90 1046.72,750.74 1049.54,750.59 1052.37,750.44 1055.19,750.29 1058.02,750.15 1060.85,750.02 1063.67,749.89 1066.50,749.77 1069.32,749.65 1072.15,749.54 1074.97,749.44 1077.80,749.34 1080.62,749.24 1083.45,749.15 1086.27,749.06 1089.10,748.98 1091.92,748.91 1094.75,748.84 1097.58,748.77 1100.40,748.71 1103.23,748.65 1106.05,748.60 1108.88,748.55 1111.70,748.51 1114.53,748.47 1117.35,748.44 1120.18,748.41 1123.00,748.38 1125.83,748.36 1128.65,748.34 1131.48,748.33 1134.31,748.32 1137.13,748.31 1139.96,748.31 1142.78,748.31 1145.61,748.32 1148.43,748.33 1151.26,748.34 1154.08,748.35 1156.91,748.37 1159.73,748.40 1162.56,748.42 1163.26,748.42"/>
</g>
</svg></body></html>
